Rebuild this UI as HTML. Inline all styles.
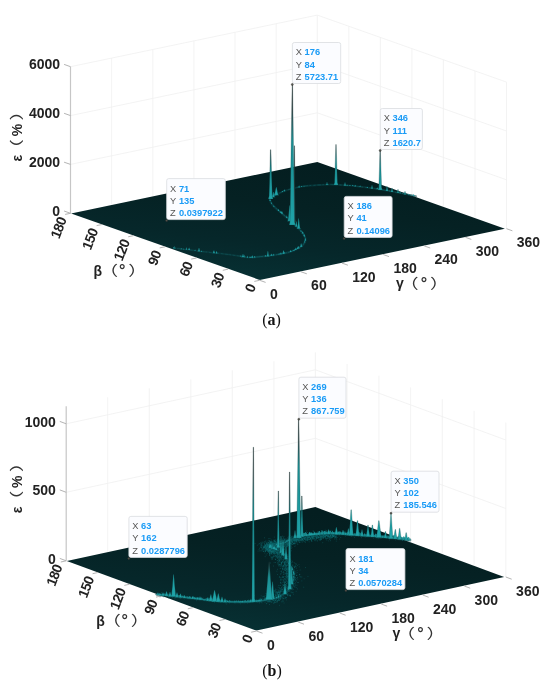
<!DOCTYPE html>
<html lang="en"><head><meta charset="utf-8"><title>Figure</title><style>
html,body{margin:0;padding:0;background:#fff}svg{display:block}
text{font-family:"Liberation Sans","Noto Sans CJK SC",sans-serif}
.t{font-size:14px;font-weight:bold;fill:#222}
.e{text-anchor:end}
.r{letter-spacing:-.7px}
.p{font-family:"Noto Sans CJK SC","Liberation Sans",sans-serif;font-size:14px;font-weight:400;fill:#333}
.d{font-size:16px;font-weight:bold;fill:#333}
.g{stroke:#f0f0f0;stroke-width:.8;fill:none}
.ax{stroke:#c6c6c6;stroke-width:1.2}
.tk{stroke:#b4b4b4;stroke-width:1}
.pk{fill:#1fa3a8;stroke:#0b3436;stroke-width:.25;stroke-linejoin:round}
.pg{fill:url(#pg)}.pg2{fill:url(#pg2)}.pd{fill:#2b3b3d}
.tb{fill:#fbfcff;stroke:#d9dce0;stroke-width:.8}
.k{font-size:9.3px;fill:#555}
.v{font-weight:bold;fill:#1a9bf6}
.mk{fill:#5a5a50;stroke:#333;stroke-width:.5}
.cap{font-family:"Liberation Serif","DejaVu Serif",serif;font-size:16px;text-anchor:middle;fill:#111}
.cb{font-weight:bold}
</style></head><body>
<svg width="550" height="684" viewBox="0 0 550 684">
<defs>
<linearGradient id="pg" x1="0" y1="0" x2="0" y2="1"><stop offset="0" stop-color="#222"/><stop offset="0.18" stop-color="#3a4a4c"/><stop offset="0.4" stop-color="#1b8d92"/><stop offset="1" stop-color="#1fa3a8"/></linearGradient>
<linearGradient id="pg2" x1="0" y1="0" x2="0" y2="1"><stop offset="0" stop-color="#2a3a3c"/><stop offset="0.4" stop-color="#1b8d92"/><stop offset="1" stop-color="#1fa3a8"/></linearGradient>
</defs>
<rect width="550" height="684" fill="#fff"/>
<g id="plot-a">
<line class="g" x1="111.6" y1="204.7" x2="111.6" y2="58.1"/>
<line class="g" x1="152.8" y1="196.1" x2="152.8" y2="49.5"/>
<line class="g" x1="193.9" y1="187.5" x2="193.9" y2="40.9"/>
<line class="g" x1="235" y1="178.9" x2="235" y2="32.3"/>
<line class="g" x1="276.2" y1="170.3" x2="276.2" y2="23.7"/>
<line class="g" x1="317.3" y1="161.7" x2="317.3" y2="15.1"/>
<line class="g" x1="506.5" y1="228.7" x2="506.5" y2="82.1"/>
<line class="g" x1="475" y1="217.5" x2="475" y2="70.9"/>
<line class="g" x1="443.4" y1="206.4" x2="443.4" y2="59.8"/>
<line class="g" x1="411.9" y1="195.2" x2="411.9" y2="48.6"/>
<line class="g" x1="380.4" y1="184" x2="380.4" y2="37.4"/>
<line class="g" x1="348.8" y1="172.9" x2="348.8" y2="26.3"/>
<polyline class="g" points="70.5,164.4 317.3,112.8 506.5,179.8"/>
<polyline class="g" points="70.5,115.6 317.3,64 506.5,131"/>
<polyline class="g" points="70.5,66.7 317.3,15.1 506.5,82.1"/>
<line class="ax" x1="70.5" y1="213.3" x2="70.5" y2="66.7"/>
<linearGradient id="fla" gradientUnits="userSpaceOnUse" x1="259.7" y1="280.3" x2="274.1" y2="161.7"><stop offset="0" stop-color="#073033"/><stop offset="0.3" stop-color="#06272a"/><stop offset="0.65" stop-color="#052123"/><stop offset="1" stop-color="#041e20"/></linearGradient>
<polygon points="71.1,213.4 259.7,279.9 504.9,228.7 317.3,162" fill="url(#fla)"/>
<line class="tk" x1="259.7" y1="280.3" x2="265.6" y2="282.4"/>
<line class="tk" x1="300.8" y1="271.7" x2="306.8" y2="273.8"/>
<line class="tk" x1="342" y1="263.1" x2="347.9" y2="265.2"/>
<line class="tk" x1="383.1" y1="254.5" x2="389" y2="256.6"/>
<line class="tk" x1="424.2" y1="245.9" x2="430.2" y2="248"/>
<line class="tk" x1="465.4" y1="237.3" x2="471.3" y2="239.4"/>
<line class="tk" x1="506.5" y1="228.7" x2="512.4" y2="230.8"/>
<line class="tk" x1="259.7" y1="280.3" x2="254.3" y2="281.4"/>
<line class="tk" x1="228.2" y1="269.1" x2="222.8" y2="270.3"/>
<line class="tk" x1="196.6" y1="258" x2="191.2" y2="259.1"/>
<line class="tk" x1="165.1" y1="246.8" x2="159.7" y2="247.9"/>
<line class="tk" x1="133.6" y1="235.6" x2="128.2" y2="236.8"/>
<line class="tk" x1="102" y1="224.5" x2="96.6" y2="225.6"/>
<line class="tk" x1="70.5" y1="213.3" x2="65.1" y2="214.4"/>
<line class="tk" x1="70.5" y1="213.3" x2="64.1" y2="211"/>
<line class="tk" x1="70.5" y1="164.4" x2="64.1" y2="162.2"/>
<line class="tk" x1="70.5" y1="115.6" x2="64.1" y2="113.3"/>
<line class="tk" x1="70.5" y1="66.7" x2="64.1" y2="64.4"/>
<text class="t" x="270" y="298.8">0</text>
<text class="t" x="311.1" y="290.2">60</text>
<text class="t" x="352.3" y="281.6">120</text>
<text class="t" x="393.4" y="273">180</text>
<text class="t" x="434.5" y="264.4">240</text>
<text class="t" x="475.7" y="255.8">300</text>
<text class="t" x="516.8" y="247.2">360</text>
<text class="t e r" x="251.5" y="284.9" transform="rotate(-69 251.5 284.9)" dy="4.9">0</text>
<text class="t e r" x="220" y="273.7" transform="rotate(-69 220 273.7)" dy="4.9">30</text>
<text class="t e r" x="188.4" y="262.6" transform="rotate(-69 188.4 262.6)" dy="4.9">60</text>
<text class="t e r" x="156.9" y="251.4" transform="rotate(-69 156.9 251.4)" dy="4.9">90</text>
<text class="t e r" x="125.4" y="240.2" transform="rotate(-69 125.4 240.2)" dy="4.9">120</text>
<text class="t e r" x="93.8" y="229.1" transform="rotate(-69 93.8 229.1)" dy="4.9">150</text>
<text class="t e r" x="62.3" y="217.9" transform="rotate(-69 62.3 217.9)" dy="4.9">180</text>
<text class="t e" x="60.1" y="216">0</text>
<text class="t e" x="60.1" y="167.1">2000</text>
<text class="t e" x="60.1" y="118.3">4000</text>
<text class="t e" x="60.1" y="69.4">6000</text>
</g>
<polyline points="173.5,248 174.8,248.2 176.7,248.4 178.8,248.6 181.2,248.9 183.8,249.2 186.4,249.5 189.1,249.8 192,250.2 195.1,250.6 198.3,251 201.4,251.4 204.5,251.8 207.5,252.1 210.6,252.5 213.6,252.8 216.6,253.1 219.7,253.4 222.7,253.8 225.8,254.2 229.1,254.6 232.4,255.1 235.5,255.5 238.4,255.9 240.9,256.3 243,256.6 244.7,256.9 246.1,257.2 247.4,257.4 248.7,257.5 250,257.6 251.3,257.6 252.5,257.5" fill="none" stroke="#0a3f43" stroke-width="2.0" stroke-linejoin="round" stroke-linecap="round" opacity="0.5"/>
<polyline points="173.5,248 174.8,248.2 176.7,248.4 178.8,248.6 181.2,248.9 183.8,249.2 186.4,249.5 189.1,249.8 192,250.2 195.1,250.6 198.3,251 201.4,251.4 204.5,251.8 207.5,252.1 210.6,252.5 213.6,252.8 216.6,253.1 219.7,253.4 222.7,253.8 225.8,254.2 229.1,254.6 232.4,255.1 235.5,255.5 238.4,255.9 240.9,256.3 243,256.6 244.7,256.9 246.1,257.2 247.4,257.4 248.7,257.5 250,257.6 251.3,257.6 252.5,257.5" fill="none" stroke="#115e63" stroke-width="0.8" stroke-linejoin="round" stroke-linecap="round" opacity="0.6" stroke-dasharray="2 2 3 1.5 1 2.5"/>
<path d="M172.8 248.3L173.5 247L174.2 248.3ZM174.3 248.5L174.8 245.8L175.4 248.5ZM180.5 249.2L181.2 248.1L182 249.2ZM183 249.5L183.8 248.4L184.6 249.5ZM185.8 249.8L186.4 247.1L187 249.8ZM188.1 250.1L189.1 247.4L190.1 250.1ZM194.6 250.9L195.1 249.6L195.6 250.9ZM200.6 251.7L201.4 250.4L202.2 251.7ZM212.8 253.1L213.6 250.4L214.4 253.1ZM215.8 253.4L216.6 250.7L217.5 253.4ZM240 256.6L240.9 255.3L241.8 256.6ZM244 257.2L244.7 254.5L245.3 257.2ZM246.8 257.7L247.4 255.6L248.1 257.7ZM249.4 257.9L250 255.8L250.6 257.9ZM250.6 257.9L251.3 255.8L252 257.9Z" fill="#1fa3a8" opacity="0.9"/>
<polyline points="252.5,257.5 253.6,257.4 254.7,257.2 255.9,257.1 257.3,256.9 258.8,256.8 260.4,256.6 262.1,256.5 263.9,256.3 265.7,256.1 267.5,255.9 269.4,255.7 271.3,255.4 273.3,255.2 275.3,254.9 277.2,254.6 279.1,254.3 280.9,254 282.7,253.6 284.5,253.3 286.2,252.9 287.8,252.5 289.3,252.1 290.7,251.7 292,251.2 293.2,250.7 294.3,250.3 295.4,249.7 296.5,249.2 297.6,248.6 298.7,248.1 299.7,247.5 300.7,246.9 301.6,246.2 302.4,245.5 303.1,244.7 303.7,243.9 304.3,243 304.7,242.2 305.1,241.3 305.3,240.5 305.4,239.7 305.4,239 305.3,238.3 305.1,237.5 304.8,236.8 304.5,236.1 304.1,235.4 303.7,234.6 303.2,233.8 302.7,233.1 302.1,232.4 301.6,231.7 301,231.1 300.5,230.5 299.9,229.9 299.3,229.3 298.7,228.7 298,228.1 297.3,227.4 296.6,226.7 295.9,226 295.2,225.2 294.4,224.5 293.6,223.7 292.7,222.9 291.8,222.1 290.8,221.2 289.8,220.3 288.8,219.5 287.8,218.6 286.8,217.7 285.8,216.9 284.9,216 283.9,215.1 282.9,214.3 282,213.5 281.1,212.7 280.2,212 279.4,211.3 278.5,210.6 277.7,209.9 276.9,209.2 276.1,208.5 275.3,207.7 274.5,207 273.8,206.2 273.1,205.5 272.5,204.8 272,204.1 271.6,203.5 271.2,202.9 270.9,202.3 270.6,201.8 270.4,201.2 270.2,200.7 270,200.1 269.9,199.6 269.9,199.2 269.9,198.7 270,198.3 270.2,197.9 270.6,197.6 271,197.2 271.5,196.9 272,196.6 272.5,196.3 273,196 273.4,195.8 273.9,195.6 274.4,195.3 275.2,195 276.2,194.6" fill="none" stroke="#0b464a" stroke-width="2.4" stroke-linejoin="round" stroke-linecap="round" opacity="0.55"/>
<polyline points="252.5,257.5 253.6,257.4 254.7,257.2 255.9,257.1 257.3,256.9 258.8,256.8 260.4,256.6 262.1,256.5 263.9,256.3 265.7,256.1 267.5,255.9 269.4,255.7 271.3,255.4 273.3,255.2 275.3,254.9 277.2,254.6 279.1,254.3 280.9,254 282.7,253.6 284.5,253.3 286.2,252.9 287.8,252.5 289.3,252.1 290.7,251.7 292,251.2 293.2,250.7 294.3,250.3 295.4,249.7 296.5,249.2 297.6,248.6 298.7,248.1 299.7,247.5 300.7,246.9 301.6,246.2 302.4,245.5 303.1,244.7 303.7,243.9 304.3,243 304.7,242.2 305.1,241.3 305.3,240.5 305.4,239.7 305.4,239 305.3,238.3 305.1,237.5 304.8,236.8 304.5,236.1 304.1,235.4 303.7,234.6 303.2,233.8 302.7,233.1 302.1,232.4 301.6,231.7 301,231.1 300.5,230.5 299.9,229.9 299.3,229.3 298.7,228.7 298,228.1 297.3,227.4 296.6,226.7 295.9,226 295.2,225.2 294.4,224.5 293.6,223.7 292.7,222.9 291.8,222.1 290.8,221.2 289.8,220.3 288.8,219.5 287.8,218.6 286.8,217.7 285.8,216.9 284.9,216 283.9,215.1 282.9,214.3 282,213.5 281.1,212.7 280.2,212 279.4,211.3 278.5,210.6 277.7,209.9 276.9,209.2 276.1,208.5 275.3,207.7 274.5,207 273.8,206.2 273.1,205.5 272.5,204.8 272,204.1 271.6,203.5 271.2,202.9 270.9,202.3 270.6,201.8 270.4,201.2 270.2,200.7 270,200.1 269.9,199.6 269.9,199.2 269.9,198.7 270,198.3 270.2,197.9 270.6,197.6 271,197.2 271.5,196.9 272,196.6 272.5,196.3 273,196 273.4,195.8 273.9,195.6 274.4,195.3 275.2,195 276.2,194.6" fill="none" stroke="#13686d" stroke-width="0.9" stroke-linejoin="round" stroke-linecap="round" opacity="0.65" stroke-dasharray="3 1.2 1.5 0.8 4 1.5"/>
<polyline points="276.2,194.6 277.5,194 278.9,193.3 280.6,192.6 282.4,191.8 284.3,191 286.4,190.3 288.7,189.6 291.1,188.9 293.8,188.3 296.4,187.6 299.1,187.1 301.6,186.6 304,186.2 306.2,185.9 308.5,185.7 310.7,185.5 313.1,185.4 315.5,185.2 318.1,185 320.7,184.9 323.4,184.7 326.1,184.7 328.9,184.6 331.8,184.6 334.8,184.7 337.8,184.8 341,185 344.1,185.2 347.1,185.4 350,185.6 352.7,185.8 355.2,186.1 357.7,186.4 360.1,186.7 362.5,187 365,187.3 367.4,187.6 369.8,187.9 372.2,188.2 374.6,188.6 377.2,189 380,189.4 383.1,189.9 386.4,190.5 389.9,191.1 393.4,191.8 396.8,192.4 400,193 402.9,193.6 405.8,194.1 408.5,194.7 411.1,195.2 413.6,195.7 416,196.2" fill="none" stroke="#0a3f43" stroke-width="2.0" stroke-linejoin="round" stroke-linecap="round" opacity="0.55"/>
<polyline points="276.2,194.6 277.5,194 278.9,193.3 280.6,192.6 282.4,191.8 284.3,191 286.4,190.3 288.7,189.6 291.1,188.9 293.8,188.3 296.4,187.6 299.1,187.1 301.6,186.6 304,186.2 306.2,185.9 308.5,185.7 310.7,185.5 313.1,185.4 315.5,185.2 318.1,185 320.7,184.9 323.4,184.7 326.1,184.7 328.9,184.6 331.8,184.6 334.8,184.7 337.8,184.8 341,185 344.1,185.2 347.1,185.4 350,185.6 352.7,185.8 355.2,186.1 357.7,186.4 360.1,186.7 362.5,187 365,187.3 367.4,187.6 369.8,187.9 372.2,188.2 374.6,188.6 377.2,189 380,189.4 383.1,189.9 386.4,190.5 389.9,191.1 393.4,191.8 396.8,192.4 400,193 402.9,193.6 405.8,194.1 408.5,194.7 411.1,195.2 413.6,195.7 416,196.2" fill="none" stroke="#115e63" stroke-width="0.8" stroke-linejoin="round" stroke-linecap="round" opacity="0.7" stroke-dasharray="1.5 2.5 3 2 1 3"/>
<path d="M251.7 257.8L252.5 255.1L253.2 257.8ZM253.9 257.5L254.7 255.8L255.5 257.5ZM264.9 256.4L265.7 254.7L266.5 256.4ZM270.4 255.7L271.3 253.6L272.3 255.7ZM272.6 255.5L273.3 253.4L274 255.5ZM278.5 254.6L279.1 252.9L279.7 254.6ZM280 254.3L280.9 252.2L281.9 254.3ZM283.7 253.6L284.5 251.5L285.2 253.6ZM289.7 252L290.7 249.9L291.7 252ZM292.6 251L293.2 249.7L293.7 251ZM293.5 250.6L294.3 249.3L295.1 250.6ZM294.8 250L295.4 247.3L296 250ZM295.8 249.5L296.5 248.2L297.2 249.5ZM296.9 248.9L297.6 246.2L298.3 248.9ZM297.7 248.4L298.7 245.7L299.6 248.4ZM304.2 242.5L304.7 240.4L305.3 242.5ZM304.3 240.8L305.3 239.7L306.3 240.8ZM304.7 240L305.4 238.9L306.1 240ZM304.6 239.3L305.4 238.2L306.2 239.3ZM303.7 236.4L304.5 235.1L305.3 236.4ZM303.2 235.7L304.1 234L305.1 235.7ZM301.7 233.4L302.7 231.3L303.7 233.4ZM300.2 231.4L301 230.3L301.9 231.4ZM297.3 228.4L298 225.7L298.7 228.4ZM294.4 225.5L295.2 224.4L296 225.5ZM293.5 224.8L294.4 223.1L295.4 224.8ZM292.8 224L293.6 222.7L294.4 224ZM291 222.4L291.8 221.1L292.6 222.4ZM287.9 219.8L288.8 218.5L289.7 219.8ZM286.1 218L286.8 215.3L287.6 218ZM281 213.8L282 211.1L283 213.8ZM280.1 213L281.1 211.3L282.1 213ZM279.7 212.3L280.2 211L280.8 212.3ZM277.7 210.9L278.5 208.8L279.3 210.9ZM272.8 206.5L273.8 205.4L274.7 206.5ZM271 203.8L271.6 202.1L272.1 203.8ZM269.6 201L270.2 199.7L270.8 201ZM269.2 200.4L270 199.1L270.8 200.4ZM270.4 197.5L271 194.8L271.6 197.5ZM270.7 197.2L271.5 196.1L272.2 197.2ZM271.6 196.6L272.5 195.3L273.4 196.6ZM272.4 196.3L273 194.6L273.6 196.3ZM273.7 195.6L274.4 192.9L275.2 195.6ZM274.2 195.3L275.2 193.6L276.1 195.3Z" fill="#1fa3a8" opacity="0.9"/>
<path d="M281.6 192.1L282.4 190.8L283.2 192.1ZM283.4 191.3L284.3 189.2L285.2 191.3ZM290.4 189.2L291.1 187.9L291.9 189.2ZM298.2 187.4L299.1 185.3L300 187.4ZM301 186.9L301.6 185.8L302.2 186.9ZM303.2 186.5L304 185.4L304.7 186.5ZM346.2 185.7L347.1 184.4L348 185.7ZM349.3 185.9L350 184.8L350.7 185.9ZM352 186.1L352.7 184.8L353.4 186.1ZM354.3 186.4L355.2 184.7L356.1 186.4ZM359.5 187L360.1 185.3L360.7 187ZM366.7 187.9L367.4 186.8L368.1 187.9ZM376.2 189.3L377.2 187.2L378.2 189.3ZM389.4 191.4L389.9 189.7L390.4 191.4ZM399.2 193.3L400 191.6L400.8 193.3ZM402.4 193.9L402.9 192.8L403.5 193.9ZM408 195L408.5 193.9L409 195ZM410.5 195.5L411.1 194.2L411.7 195.5ZM412.7 196L413.6 193.9L414.5 196Z" fill="#1fa3a8" opacity="0.9"/>
<polygon class="pk pg2" points="333.8,185.1 334.6,182.4 335.2,164.7 335.8,144.5 336.2,144.5 336.8,164.7 337.4,182.4 338.2,185.1"/>
<polygon class="pk" points="325.4,185.1 326.2,184.6 326.6,183.5 326.8,182.2 327.2,182.2 327.4,183.5 327.8,184.6 328.6,185.1"/>
<polygon class="pk" points="343.3,185.7 344.1,185.2 344.5,183.9 344.8,182.4 345.2,182.4 345.5,183.9 345.9,185.2 346.7,185.7"/>
<polygon class="pk" points="370.3,188.7 371.1,188.2 371.5,186.8 371.8,185.2 372.2,185.2 372.5,186.8 372.9,188.2 373.7,188.7"/>
<polygon class="pk pg2" points="378,190.1 378.8,187.4 379.4,170.2 379.9,150.6 380.4,150.6 381,170.2 381.6,187.4 382.4,190.1"/>
<polygon class="pk" points="385.2,191.1 386,190.5 386.4,188.7 386.8,186.5 387.2,186.5 387.6,188.7 388,190.5 388.8,191.1"/>
<polygon class="pk" points="390.2,192.1 391,191.6 391.4,190.1 391.8,188.3 392.2,188.3 392.6,190.1 393,191.6 393.8,192.1"/>
<polygon class="pk" points="396.3,193.1 397.1,192.6 397.5,191.2 397.8,189.5 398.2,189.5 398.5,191.2 398.9,192.6 399.7,193.1"/>
<polygon class="pk" points="403.3,194.5 404.1,194 404.5,192.8 404.8,191.5 405.2,191.5 405.5,192.8 405.9,194 406.7,194.5"/>
<polygon class="pk" points="273.7,195.3 274.5,194.5 275.3,191.1 276.1,187.2 276.6,187.2 277.3,191.1 278.1,194.5 278.9,195.3"/>
<polygon class="pk" points="271.2,197.3 272,196.7 272.6,194.5 273.1,192 273.6,192 274,194.5 274.6,196.7 275.4,197.3"/>
<polygon class="pk pg2" points="268.3,199.1 269.1,195.9 269.8,174.2 270.4,149.7 270.9,149.7 271.6,174.2 272.3,195.9 273.1,199.1"/>
<polygon class="pk" points="287.3,221.3 288.1,220.1 288.8,213.2 289.4,205.5 289.9,205.5 290.4,213.2 291.1,220.1 291.9,221.3"/>
<polygon class="pk pd" points="292.5,222.3 293.3,219 293.7,183.9 294.1,145.8 294.6,145.8 294.9,183.9 295.3,219 296.1,222.3"/>
<polygon class="pk pg" points="289.2,225.1 290,221.8 291,154.9 292.1,84.9 292.6,84.9 293.6,154.9 294.6,221.8 295.4,225.1"/>
<polygon class="pk" points="294.5,226.8 295.3,226.2 295.7,224 296.1,221.5 296.6,221.5 296.9,224 297.3,226.2 298.1,226.8"/>
<polygon class="pk" points="296.6,228.7 297.4,227.8 298,223.5 298.4,218.6 298.9,218.6 299.4,223.5 300,227.8 300.8,228.7"/>
<polygon class="pk" points="299.4,246.9 300.2,246.4 300.6,245 300.9,243.4 301.4,243.4 301.8,245 302.2,246.4 303,246.9"/>
<polygon class="pk" points="197.2,251.5 198,251 198.4,249.6 198.8,248 199.2,248 199.6,249.6 200,251 200.8,251.5"/>
<polygon class="pk" points="212.2,253.3 213,252.9 213.4,251.8 213.8,250.6 214.2,250.6 214.6,251.8 215,252.9 215.8,253.3"/>
<polygon class="pk" points="281.7,253.9 282.5,253.4 282.9,252 283.2,250.4 283.8,250.4 284.1,252 284.5,253.4 285.3,253.9"/>
<polygon class="pk" points="266.1,256.5 266.9,255.9 267.3,253.7 267.6,251.2 268.1,251.2 268.5,253.7 268.9,255.9 269.7,256.5"/>
<polygon class="pk" points="241,257.3 241.8,256.8 242.4,255.5 242.8,254 243.2,254 243.6,255.5 244.2,256.8 245,257.3"/>
<g transform="translate(21.8 161.6) rotate(-90)">
<text class="t" x="0" y="0">ε</text>
<text class="p" transform="translate(3.7 -0.6) scale(1.35 1)">（</text>
<text class="t" x="25.3" y="0">%</text>
<text class="p" transform="translate(41.2 -0.6) scale(1.35 1)">）</text>
</g>
<text class="t" x="93.6" y="276">β</text>
<text class="p" transform="translate(99.3 275.1) scale(1.35 1)">（</text>
<text class="d" x="119" y="276.2">°</text>
<text class="p" transform="translate(128.2 275.1) scale(1.35 1)">）</text>
<text class="t" x="396" y="287.9">γ</text>
<text class="p" transform="translate(399.8 288.3) scale(1.35 1)">（</text>
<text class="d" x="420.8" y="289.2">°</text>
<text class="p" transform="translate(429.9 288.3) scale(1.35 1)">）</text>
<rect class="tb" x="292.4" y="42.5" width="48.3" height="41" rx="2"/>
<text class="k" x="295.8" y="55.4">X<tspan class="v" x="304.6">176</tspan></text>
<text class="k" x="295.8" y="67.5">Y<tspan class="v" x="304.6">84</tspan></text>
<text class="k" x="295.8" y="79.6">Z<tspan class="v" x="304.6">5723.71</tspan></text>
<circle class="mk" cx="292.3" cy="84.5" r="1"/>
<rect class="tb" x="380.3" y="108.5" width="42.1" height="41" rx="2"/>
<text class="k" x="383.7" y="121.4">X<tspan class="v" x="392.5">346</tspan></text>
<text class="k" x="383.7" y="133.5">Y<tspan class="v" x="392.5">111</tspan></text>
<text class="k" x="383.7" y="145.6">Z<tspan class="v" x="392.5">1620.7</tspan></text>
<circle class="mk" cx="380.2" cy="150.5" r="1"/>
<rect class="tb" x="344.2" y="196.4" width="47.9" height="41" rx="2"/>
<text class="k" x="347.6" y="209.3">X<tspan class="v" x="356.4">186</tspan></text>
<text class="k" x="347.6" y="221.4">Y<tspan class="v" x="356.4">41</tspan></text>
<text class="k" x="347.6" y="233.5">Z<tspan class="v" x="356.4">0.14096</tspan></text>
<circle class="mk" cx="344.1" cy="238.4" r="1"/>
<rect class="tb" x="166.7" y="178.6" width="58.6" height="41" rx="2"/>
<text class="k" x="170.1" y="191.5">X<tspan class="v" x="178.9">71</tspan></text>
<text class="k" x="170.1" y="203.6">Y<tspan class="v" x="178.9">135</tspan></text>
<text class="k" x="170.1" y="215.7">Z<tspan class="v" x="178.9">0.0397922</tspan></text>
<circle class="mk" cx="166.6" cy="220.6" r="1"/>
<text class="cap" x="271.6" y="324.6">(<tspan class="cb">a</tspan>)</text>
<g id="plot-b">
<line class="g" x1="107.7" y1="551.8" x2="107.7" y2="397.3"/>
<line class="g" x1="149.3" y1="542.8" x2="149.3" y2="388.3"/>
<line class="g" x1="190.8" y1="533.8" x2="190.8" y2="379.3"/>
<line class="g" x1="232.3" y1="524.8" x2="232.3" y2="370.3"/>
<line class="g" x1="273.9" y1="515.8" x2="273.9" y2="361.3"/>
<line class="g" x1="315.4" y1="506.8" x2="315.4" y2="352.3"/>
<line class="g" x1="505.8" y1="577" x2="505.8" y2="422.5"/>
<line class="g" x1="474.1" y1="565.3" x2="474.1" y2="410.8"/>
<line class="g" x1="442.3" y1="553.6" x2="442.3" y2="399.1"/>
<line class="g" x1="410.6" y1="541.9" x2="410.6" y2="387.4"/>
<line class="g" x1="378.9" y1="530.2" x2="378.9" y2="375.7"/>
<line class="g" x1="347.1" y1="518.5" x2="347.1" y2="364"/>
<polyline class="g" points="66.2,492.3 315.4,438.3 505.8,508.5"/>
<polyline class="g" points="66.2,423.8 315.4,369.8 505.8,440"/>
<line class="ax" x1="66.2" y1="560.8" x2="66.2" y2="406.3"/>
<linearGradient id="flb" gradientUnits="userSpaceOnUse" x1="256.6" y1="631" x2="271.3" y2="506.8"><stop offset="0" stop-color="#073033"/><stop offset="0.3" stop-color="#06272a"/><stop offset="0.65" stop-color="#052123"/><stop offset="1" stop-color="#041e20"/></linearGradient>
<polygon points="66.8,560.9 256.6,630.6 504.2,577 315.4,507.1" fill="url(#flb)"/>
<line class="tk" x1="256.6" y1="631" x2="262.5" y2="633.2"/>
<line class="tk" x1="298.1" y1="622" x2="304" y2="624.2"/>
<line class="tk" x1="339.7" y1="613" x2="345.6" y2="615.2"/>
<line class="tk" x1="381.2" y1="604" x2="387.1" y2="606.2"/>
<line class="tk" x1="422.7" y1="595" x2="428.6" y2="597.2"/>
<line class="tk" x1="464.3" y1="586" x2="470.2" y2="588.2"/>
<line class="tk" x1="505.8" y1="577" x2="511.7" y2="579.2"/>
<line class="tk" x1="256.6" y1="631" x2="251.2" y2="632.2"/>
<line class="tk" x1="224.9" y1="619.3" x2="219.5" y2="620.5"/>
<line class="tk" x1="193.1" y1="607.6" x2="187.8" y2="608.8"/>
<line class="tk" x1="161.4" y1="595.9" x2="156" y2="597.1"/>
<line class="tk" x1="129.7" y1="584.2" x2="124.3" y2="585.4"/>
<line class="tk" x1="97.9" y1="572.5" x2="92.6" y2="573.7"/>
<line class="tk" x1="66.2" y1="560.8" x2="60.8" y2="562"/>
<line class="tk" x1="66.2" y1="560.8" x2="59.8" y2="558.4"/>
<line class="tk" x1="66.2" y1="492.3" x2="59.8" y2="489.9"/>
<line class="tk" x1="66.2" y1="423.8" x2="59.8" y2="421.4"/>
<text class="t" x="266.9" y="649.5">0</text>
<text class="t" x="308.4" y="640.5">60</text>
<text class="t" x="350" y="631.5">120</text>
<text class="t" x="391.5" y="622.5">180</text>
<text class="t" x="433" y="613.5">240</text>
<text class="t" x="474.6" y="604.5">300</text>
<text class="t" x="516.1" y="595.5">360</text>
<text class="t e r" x="248.4" y="635.6" transform="rotate(-69 248.4 635.6)" dy="4.9">0</text>
<text class="t e r" x="216.7" y="623.9" transform="rotate(-69 216.7 623.9)" dy="4.9">30</text>
<text class="t e r" x="184.9" y="612.2" transform="rotate(-69 184.9 612.2)" dy="4.9">60</text>
<text class="t e r" x="153.2" y="600.5" transform="rotate(-69 153.2 600.5)" dy="4.9">90</text>
<text class="t e r" x="121.5" y="588.8" transform="rotate(-69 121.5 588.8)" dy="4.9">120</text>
<text class="t e r" x="89.7" y="577.1" transform="rotate(-69 89.7 577.1)" dy="4.9">150</text>
<text class="t e r" x="58" y="565.4" transform="rotate(-69 58 565.4)" dy="4.9">180</text>
<text class="t e" x="55.8" y="563.5">0</text>
<text class="t e" x="55.8" y="495">500</text>
<text class="t e" x="55.8" y="426.5">1000</text>
</g>
<path d="M160.1 594h.1M157.1 594.9h.1M155.6 594.5h.1M157.9 592.8h.1M159.8 595.2h.1M156.8 594.4h.1M160.1 594.5h.1M158.7 593.2h.1M160.2 594.9h.1M161.1 593.3h.1M163.6 595.1h.1M159.9 597h.1M162.2 593.6h.1M161.6 592.7h.1M164.2 594.7h.1M162.8 596.4h.1M161.1 595.9h.1M160.3 594.6h.1M163.8 597h.1M169.2 595.2h.1M167.5 595.3h.1M169.1 594.9h.1M164.9 593.8h.1M168.7 598.1h.1M170.7 595.4h.1M173.7 596.2h.1M170.4 596.2h.1M172.4 595.9h.1M170 596.7h.1M172.5 597.5h.1M174.4 594.5h.1M174.9 598.3h.1M174.4 595.5h.1M175.4 595.6h.1M177 595.5h.1M180.3 596.4h.1M180.2 598.5h.1M182.7 596.8h.1M180.6 597.8h.1M182.1 595.4h.1M183.6 598.2h.1M183.2 596.3h.1M184.6 596.9h.1M184.4 598.9h.1M187.7 598.2h.1M188.4 598.5h.1M187.4 597.7h.1M186.2 597.7h.1M194.1 599h.1M189.3 597.6h.1M188.4 598.4h.1M193.2 596.8h.1M193.4 597.7h.1M195.1 598.5h.1M198.1 598.1h.1M194.5 598.9h.1M196.9 599.2h.1M195.3 599.1h.1M197.5 598.4h.1M196.3 600.7h.1M199.3 598.3h.1M201.2 599.3h.1M199.9 600h.1M203.4 599.9h.1M204.3 599.8h.1M201.4 599.1h.1M204.1 600.1h.1M203 597.9h.1M205.2 598.4h.1M203.9 600.5h.1M206.2 600.7h.1M206.5 599h.1M207.7 599.9h.1M209.5 599.5h.1M209.5 598.8h.1M212.5 598.8h.1M212.1 601.4h.1M214.5 602.4h.1M212.2 601.7h.1M217.2 601.9h.1M213.3 601.3h.1M220.9 599.5h.1M218.4 602.3h.1M216.2 601.7h.1M218.1 600.4h.1M218.5 601.5h.1M219.8 602.3h.1M220.8 601.3h.1M224.2 602h.1M220.1 602.2h.1M224.1 602h.1M225.5 602.9h.1M225.2 599.7h.1M225 602.5h.1M227.1 602.9h.1M228 600.9h.1M232 601h.1M226.3 604h.1M226.6 602.5h.1M234.3 602.1h.1M229.6 603h.1M230 600.5h.1M234.5 602.8h.1M235.7 602.8h.1M234.3 601.8h.1M235.5 601.7h.1M238.7 601.7h.1M238.5 601.4h.1M238.9 602h.1M239.6 602.6h.1M240.3 603.8h.1M241.9 601.8h.1M240.4 602h.1M243.5 601.2h.1M244.4 602.7h.1M244.3 601.4h.1M246.3 602.1h.1M247.4 603.1h.1M248.8 601.5h.1M245.7 602.2h.1M248.6 599.8h.1M251.1 601.9h.1M250.2 600.6h.1M253.3 601.1h.1M250.7 600.3h.1M250.6 601.5h.1M252.7 602.1h.1M253.1 602.6h.1M252.1 600.6h.1M255 602.1h.1M257.3 602.3h.1M251.9 601.8h.1M259.8 601.3h.1M256.2 601.6h.1M256.2 601.9h.1M259.1 602.5h.1M260 600.3h.1M260.2 602h.1M260 600.3h.1M256.9 601.7h.1M260 598.5h.1M259.8 600.3h.1M264.4 600.4h.1M263.9 599.3h.1M262.6 601.1h.1M265.9 600.2h.1M267.3 599.2h.1M265 602.7h.1M275.5 600h.1M274.8 598.3h.1M268.5 599.5h.1M259.5 600.6h.1M271.3 599.5h.1M266.6 603.7h.1M261.1 595.9h.1M263.9 596.7h.1M273.2 600.8h.1M262.9 598.3h.1M280.3 598.3h.1M263.4 600.8h.1M269.9 600.5h.1M262.7 596.8h.1M269.7 599.8h.1M259.3 603.1h.1M270.6 599.3h.1M265.7 600.6h.1M263.7 596.3h.1M268.4 596h.1M268.8 596h.1M266.5 599.6h.1M275.3 597.1h.1M260.3 598.2h.1M261.7 598.3h.1M268.9 602h.1M274.7 597.9h.1M279.3 605.3h.1M266 593.7h.1M268.5 599.9h.1M258.1 599.9h.1M267.9 597.6h.1M271.8 602.4h.1M266.6 600.3h.1M265.8 597.6h.1M269.2 601.1h.1M266.2 593.7h.1M271.6 595.4h.1M269.4 604.5h.1M268.8 596.5h.1M262 602.9h.1M268.8 601.2h.1M273.2 599.6h.1M267.4 597.1h.1M254.4 595.6h.1M268.5 599.2h.1M270.8 599.4h.1M269.6 601.8h.1M264.7 598.9h.1M261.3 602.3h.1M269 601h.1M276.1 602.6h.1M268.6 601.8h.1M262.2 600.9h.1M269.5 595.3h.1M275.1 597.8h.1M272.1 598.6h.1M273.5 603.2h.1M265 595.6h.1M270.2 601.7h.1M269 597.8h.1M273.1 592h.1M267.7 595.7h.1M272.1 597.5h.1M265.5 598.5h.1M263.9 599.4h.1M267.6 598.4h.1M267.4 601.9h.1M270.3 600.9h.1M273 597.3h.1M273.4 600.4h.1M272.2 598.4h.1M268.8 601.6h.1M281 597.2h.1M273.3 598.5h.1M274.4 600.6h.1M275.7 591.9h.1M268 596.8h.1M270.3 597.5h.1M267.8 601.3h.1M279.7 591.8h.1M269.3 600.3h.1M270.8 598.5h.1M264.4 596.9h.1M274.2 602.4h.1M271.2 597.2h.1M271.2 598.8h.1M273.3 599.8h.1M267.9 600h.1M267.1 601.3h.1M278.2 595.9h.1M274.6 596.4h.1M277.7 601.6h.1M271.6 601.8h.1M270.6 597.4h.1M270 598.7h.1M271.1 599.5h.1M269.8 601.2h.1M277.4 597.8h.1M266 601.1h.1M278 598.7h.1M266.6 599.8h.1M279.8 594.1h.1M274.9 598.3h.1M268.7 600.5h.1M266.6 599.9h.1M278.8 599.6h.1M268.6 594.3h.1M266.7 594.1h.1M280.1 598.4h.1M267.8 595.6h.1M267.7 598.2h.1M266.7 603.6h.1M269.2 597h.1M274.1 603h.1M278.9 597.8h.1M273.9 599.5h.1M275.1 599.8h.1M268.2 595.7h.1M275.4 595.5h.1M280.9 598.8h.1M269.7 597.8h.1M272.2 598.3h.1M279 594.8h.1M265.8 599.6h.1M273.7 599.1h.1M276.6 598.2h.1M278.3 596.2h.1M274.8 596.4h.1M269.2 600.3h.1M277.2 593.4h.1M269.3 599.4h.1M279.5 596.9h.1M273.7 594.8h.1M286.3 599.9h.1M278.7 600.4h.1M278.9 600.3h.1M273 600.7h.1M274.9 602.2h.1M271.1 597.2h.1M277.6 602.1h.1M275.2 596.7h.1M274 597.3h.1M283.4 601.1h.1M280.5 599.5h.1M271.9 601.8h.1M282.3 600.2h.1M274.4 601.6h.1M272.8 600.7h.1M273.1 595.4h.1M279.1 598.9h.1M285.3 597.2h.1M276.5 594.9h.1M267.7 593.2h.1M278.6 594.8h.1M281.7 601.8h.1M275.1 602.5h.1M277.5 601h.1M275.3 600.6h.1M272 599.7h.1M274.3 597.6h.1M279.4 598.5h.1M276.1 600h.1M280.2 594.3h.1M279 599.8h.1M272.9 599h.1M270.2 601.9h.1M275.3 597.8h.1M282 597.6h.1M279.2 595.2h.1M273.7 594.2h.1M275.4 600.8h.1M277.4 600.4h.1M271.6 595.6h.1M274.2 599.5h.1M278.1 598h.1M279.3 597.6h.1M276.3 601.5h.1M273.7 598.5h.1M285.9 597.4h.1M281.6 595.5h.1M287.5 591.1h.1M273 594.3h.1M285.9 598.1h.1M277.1 593.7h.1M280 597.4h.1M275.1 593.1h.1M273.1 597.7h.1M279.8 597.3h.1M277.6 592.4h.1M278.5 594.3h.1M278.5 598.4h.1M275.1 594.4h.1M283 598.1h.1M275.3 589h.1M278.1 598.8h.1M283.6 595.3h.1M275.3 595.9h.1M282.2 594h.1M277.8 594.6h.1M279.6 592.9h.1M280.1 595.8h.1M277.3 598.6h.1M283.7 592.6h.1M283 598.6h.1M276.9 600.9h.1M279.2 600.6h.1M275.5 594.8h.1M284 603h.1M283.2 598.5h.1M278.1 592.5h.1M279.2 600.2h.1M271.6 594.8h.1M271.3 596.4h.1M284.4 592.7h.1M278.4 599.7h.1M279.9 592.8h.1M274.1 590.7h.1M283.9 594.1h.1M285.2 598.4h.1M277.2 594.7h.1M283.9 596.5h.1M281.5 591.7h.1M284.5 593.7h.1M269.7 594.4h.1M282.2 601.8h.1M278.5 592.5h.1M290.2 596.5h.1M279.1 593.2h.1M275.6 600.1h.1M279 594.7h.1M277.9 600.3h.1M277.5 597.8h.1M281.5 596.7h.1M276.2 597.9h.1M287.8 596h.1M276 592.6h.1M281.2 595.4h.1M279.8 596.1h.1M271.8 597h.1M279.8 594.7h.1M279.8 597.4h.1M279 592.6h.1M284.2 593.8h.1M275.3 590.7h.1M278.8 592.1h.1M276.3 596.2h.1M278.9 597.7h.1M280.2 593.8h.1M277.2 593.6h.1M281.8 595h.1M276.8 597.2h.1M279.2 593.7h.1M271.6 596.1h.1M279.8 595.1h.1M276.7 592.7h.1M277.7 595.6h.1M278.1 594.5h.1M276.5 595.9h.1M279.8 592.9h.1M282.3 597.1h.1M282.5 594.6h.1M277.8 591.8h.1M282.3 589.2h.1M276.9 594h.1M282.7 594.9h.1M274.2 591.1h.1M275.3 595.2h.1M279 594.4h.1M277.4 593.1h.1M285.3 590.7h.1M280.8 598h.1M283.2 592.4h.1M283.7 591.6h.1M280.6 597.9h.1M289.5 589.1h.1M283.9 598.9h.1M278 594.4h.1M287.6 592.3h.1M282.7 593.5h.1M271.6 594.6h.1M279.7 596.2h.1M290.4 595.5h.1M278.9 594.9h.1M281.5 596.4h.1M273.9 590.5h.1M271 595.3h.1M280.5 591.9h.1M277.2 592.1h.1M276.3 592.8h.1M278.3 597.4h.1M282.1 591.5h.1M277.9 596.9h.1M282.7 594.5h.1M284 598h.1M274.9 591.7h.1M272.4 595h.1M278.8 591.9h.1M277 595.5h.1M281.6 590.9h.1M288.2 589.5h.1M276.4 599.4h.1M280.6 590.9h.1M278.9 592h.1M286 594.4h.1M284.9 591.6h.1M275.3 593.1h.1M289.4 595.2h.1M281.5 594.5h.1M280.5 592.2h.1M276.5 591.5h.1M283 591.9h.1M285.9 597.4h.1M288.5 591.5h.1M278.9 590.6h.1M277.7 592.4h.1M284.3 592.8h.1M283.2 592.8h.1M281.7 590.3h.1M290.4 595.2h.1M278.1 589.9h.1M279.6 592.4h.1M288.2 595.1h.1M287.3 595.3h.1M287.5 594.3h.1M284.4 592h.1M274.1 592h.1M290.7 590.9h.1M279.4 595.1h.1M284.2 589.7h.1M291.1 592.7h.1M287.3 589.5h.1M286.1 592h.1M287.4 594.1h.1M289.1 591.5h.1M287 587.9h.1M286.8 592.8h.1M282 588.9h.1M283.5 587.7h.1M285.4 591.8h.1M279.4 591.1h.1M288.8 593.9h.1M288.5 590.6h.1M282.2 589.9h.1M286.6 597.4h.1M290.4 595.3h.1M290.1 586.6h.1M282.9 589.8h.1M289.6 595.6h.1M280.7 591.1h.1M286.4 589.7h.1M280.9 589.2h.1M287.9 588.5h.1M289.1 591.2h.1M287.3 595.2h.1M280.7 588.8h.1M285.8 588.2h.1M280.4 590.7h.1M284.5 587.6h.1M283.3 591.2h.1M291.4 584.3h.1M291.2 592h.1M280 585.6h.1M287 588.5h.1M285.7 591.9h.1M283.3 590h.1M287.3 592h.1M293.3 594.2h.1M286.2 589h.1M296.1 591.3h.1M287.1 586.6h.1M288.7 587.5h.1M282.9 586h.1M282.7 589.8h.1M278.1 587.2h.1M284.7 586.2h.1M279.2 587.4h.1M278.5 591.2h.1M280.4 591.7h.1M289.4 586.4h.1M285.3 588.3h.1M279.8 588.7h.1M283.9 591.5h.1M289.9 586.6h.1M283.2 591h.1M290.6 583h.1M291 589.1h.1M292.2 588.5h.1M281.2 589.7h.1M291.6 588.2h.1M275.2 589.9h.1M278.7 585.5h.1M280.7 583.1h.1M280.3 585.4h.1M283.3 587.9h.1M284.6 584.1h.1M285.3 590.7h.1M290.6 588.5h.1M289.1 590.5h.1M292.5 592.7h.1M284.7 587.4h.1M293.1 592.3h.1M293.4 581.8h.1M285.1 579.3h.1M289.6 588.2h.1M286.4 587.7h.1M292.3 587.3h.1M291 589.6h.1M287.8 589.3h.1M286.7 585.1h.1M289.5 590h.1M285.5 590.1h.1M290.4 584.6h.1M285.5 586.9h.1M281.9 589h.1M282.2 586.9h.1M287.3 589h.1M287.7 594.1h.1M283.8 588.8h.1M281.5 587.8h.1M292.5 589.8h.1M284.1 585.8h.1M293 586.3h.1M291.6 583.9h.1M293.6 589.3h.1M289.3 584.4h.1M286.4 586.9h.1M288.4 586.2h.1M286.1 587.1h.1M293.7 581.1h.1M280.7 582.4h.1M283.9 581.8h.1M289.7 586.8h.1M285.9 584.7h.1M287.9 587h.1M288.7 584.6h.1M290.2 582.6h.1M293 578.2h.1M284.3 583.3h.1M290.8 582.5h.1M295.7 582.4h.1M296.6 587.7h.1M287.3 587.7h.1M297.4 588.9h.1M276.7 589.8h.1M288.2 582.2h.1M290.7 583.3h.1M288 587.2h.1M284.1 588.3h.1M283.2 585.5h.1M285.4 584.4h.1M296.9 585.2h.1M282.8 584.6h.1M284.3 585h.1M288.7 585.2h.1M288.3 583.5h.1M290 587.8h.1M285 584.8h.1M288.2 588.3h.1M293 583h.1M288.3 580.9h.1M283.4 585h.1M290.9 587.5h.1M286.5 581.3h.1M289.8 584.5h.1M289.9 585.4h.1M291.3 586.7h.1M291.9 583.7h.1M292.6 583.6h.1M288.3 590h.1M289.6 581.8h.1M294.9 587.6h.1M293.3 585.5h.1M289.6 584.3h.1M284.7 589.1h.1M286.2 583.6h.1M285.9 590h.1M292 583.9h.1M287.7 586.3h.1M292.7 579h.1M292.9 582.8h.1M285.4 582.3h.1M292.3 588.1h.1M289.3 584.9h.1M284.8 584.7h.1M292.5 579.3h.1M286.2 585.5h.1M280.4 582.3h.1M291.4 578.8h.1M286.8 583.5h.1M292.8 579.9h.1M293.8 584.2h.1M294.2 586.5h.1M290.2 584.7h.1M280.5 579.7h.1M283.9 582.4h.1M293 578.5h.1M287.1 579.8h.1M281.3 587.3h.1M289.1 587.8h.1M294.2 580.9h.1M279.9 588.9h.1M286.7 580.3h.1M291.9 583.7h.1M285.5 582.4h.1M289.4 583.6h.1M292.2 582.4h.1M287 585h.1M290.1 586.3h.1M288 581.5h.1M283.8 585.8h.1M282.7 582.3h.1M285 582.7h.1M292.7 577.4h.1M288.2 577.1h.1M295.8 580.6h.1M281.8 579.9h.1M295.3 585.8h.1M295.1 579.7h.1M288.5 586.2h.1M285.8 580.9h.1M284.7 578.7h.1M294.8 583.5h.1M291.3 583.4h.1M294 585.9h.1M289.2 580.9h.1M284.4 584.7h.1M286.8 577.8h.1M287.9 581.9h.1M293.1 584.5h.1M285.8 579.6h.1M287.7 578.5h.1M288.7 583h.1M289.4 577.4h.1M283.6 585.3h.1M284.5 583.8h.1M292.2 580.9h.1M284.5 582.4h.1M285.1 581.3h.1M290.2 578.3h.1M288.6 579.4h.1M283.9 579.8h.1M286.7 575.4h.1M288.1 579.5h.1M286.8 574.7h.1M293.3 582.1h.1M292.7 581.2h.1M283.8 580.6h.1M285.3 586.2h.1M287.2 582.1h.1M282.4 577.1h.1M287.2 582.2h.1M292.2 581.1h.1M281 583.3h.1M285.3 584.6h.1M298.4 582.5h.1M294.3 576.9h.1M301.8 580.9h.1M294.4 578h.1M289.4 577.1h.1M288.6 580.3h.1M290.9 584h.1M291.9 580.9h.1M289.9 585.7h.1M287 583.5h.1M280.5 577.9h.1M291.6 579.8h.1M303.7 587.2h.1M282.6 577.4h.1M289.4 583.5h.1M295.4 579.6h.1M283.4 576.5h.1M277.5 574.6h.1M292 580.9h.1M283.9 579.1h.1M297.7 579.2h.1M288.6 580.4h.1M292.5 579h.1M287.6 577.6h.1M290.5 577.3h.1M296.3 581.2h.1M295.2 584.2h.1M297.5 582.6h.1M291.8 578.3h.1M300.8 577h.1M287.2 576.4h.1M291.1 579.9h.1M294.9 578.2h.1M281.9 579.6h.1M294.6 578.9h.1M289.4 580.3h.1M296.8 578.6h.1M283.4 577.2h.1M289.3 573.9h.1M293.7 576.7h.1M292.4 579.3h.1M288.6 583.2h.1M287.4 576.9h.1M291.4 581h.1M290.3 574.6h.1M293.5 578.9h.1M300 576.7h.1M291.3 575.7h.1M283.3 577.4h.1M294.3 574.5h.1M287.1 574.1h.1M296.6 575.5h.1M293 574.9h.1M290.6 575.6h.1M279.3 577.5h.1M292.7 571.6h.1M289.5 576.1h.1M285.2 576.6h.1M281.2 577.9h.1M295.8 573.8h.1M290 581.1h.1M290.8 575.8h.1M286 577.7h.1M289.7 578.9h.1M283.2 580.2h.1M288.4 579h.1M286.9 573.7h.1M287.6 574.7h.1M288.5 579h.1M295.3 577.8h.1M287.7 576h.1M293 580.3h.1M288.8 576.9h.1M286.8 577.8h.1M294.9 567.9h.1M291.6 574.2h.1M279.5 576.6h.1M290 576.7h.1M284 581.5h.1M290.9 574.8h.1M297.5 577.5h.1M294.3 578.9h.1M280.7 580.2h.1M288.7 576.5h.1M294.7 573.8h.1M291.9 577.8h.1M290.2 577.1h.1M282.9 572.5h.1M285 576.7h.1M307.9 576.4h.1M289.7 575.6h.1M295 577.7h.1M285 578.5h.1M290.3 577.9h.1M281 571.5h.1M293.2 570.9h.1M292.2 576.6h.1M291.1 576.7h.1M291.6 576.9h.1M288.5 575.7h.1M304.1 578.8h.1M293.2 576.8h.1M287 576.3h.1M289.2 578.3h.1M286 567.8h.1M287.7 576.1h.1M301.8 577h.1M285.7 573.6h.1M285.9 573.7h.1M286.1 569.8h.1M292.4 574.7h.1M289.5 575.2h.1M299.8 574.5h.1M288.5 576.6h.1M282.6 576.3h.1M286.7 572h.1M290.8 578.7h.1M286.8 576.8h.1M292.1 570.5h.1M294.6 572h.1M283.4 572.1h.1M286.9 575.8h.1M286.9 578.2h.1M291.4 572.3h.1M286.4 574.8h.1M280.8 568.3h.1M286.2 575.9h.1M291.2 574.3h.1M289.3 568.3h.1M288.8 569.4h.1M294.2 574.2h.1M289.9 575.3h.1M291.8 574.8h.1M291.9 572.6h.1M283.9 573.6h.1M296.9 575.4h.1M289.1 574.4h.1M288 573.7h.1M287.3 573.1h.1M299.5 574.8h.1M297.1 570.6h.1M286.9 572.6h.1M292.7 572.1h.1M294.8 571.2h.1M296.5 575.3h.1M284.9 574.3h.1M289.1 575.5h.1M287.6 573.5h.1M292.7 565.3h.1M281.3 573h.1M289.5 575.4h.1M291.2 569.3h.1M291.6 570.7h.1M289 571.3h.1M291.7 568.9h.1M284.9 566.7h.1M300.1 570h.1M286.1 569.6h.1M287.1 571.5h.1M293 573.2h.1M291.6 571.1h.1M289.8 576h.1M290 573.5h.1M280.6 574.1h.1M290.9 574.7h.1M276.8 571.2h.1M289.1 571.4h.1M286.7 571.7h.1M292.9 571.3h.1M288.2 570.6h.1M287.8 571.2h.1M286.2 565.8h.1M295.9 566.4h.1M289 567.6h.1M288.2 568.5h.1M289.3 568.8h.1M283.5 571.9h.1M295.8 572h.1M290 568.3h.1M289.1 572.3h.1M286.5 573.5h.1M289.3 572h.1M287.2 569.8h.1M290.5 572.1h.1M291.1 568.3h.1M286 571h.1M280.8 573.9h.1M290.9 571.2h.1M286.1 573.3h.1M288.2 576.2h.1M291.3 567h.1M292.8 569.6h.1M287 570.4h.1M288.8 571.7h.1M292.4 570.7h.1M285.4 565.9h.1M285 570.5h.1M292.8 574.4h.1M282.5 569.7h.1M287.7 568.4h.1M289.4 568.8h.1M287.5 567.8h.1M290.6 572.4h.1M296.4 568.1h.1M283.8 568.8h.1M284.9 572.3h.1M284.9 569.7h.1M282.5 568.6h.1M289.7 573.6h.1M285.5 570.5h.1M279 566.2h.1M284.9 568.2h.1M290.8 571.2h.1M281.2 570.9h.1M283.5 574.5h.1M290.2 569.9h.1M287.9 569.4h.1M288.8 567.6h.1M292.2 570.2h.1M292.2 569.3h.1M291.9 567.5h.1M305.4 567.6h.1M286.7 572.1h.1M294.5 567.3h.1M280.2 564.2h.1M283.3 565.9h.1M287.2 570.8h.1M293 566.3h.1M290.5 570.4h.1M294.5 567.5h.1M284.5 570h.1M295 566.6h.1M297.1 572.6h.1M286.7 563.7h.1M285.1 567h.1M290.4 563.5h.1M299.3 574.3h.1M284.5 562.9h.1M287.1 569.1h.1M294.2 569.9h.1M287 562.6h.1M290.3 570.2h.1M286.5 568.7h.1M288.9 567.3h.1M282.5 568.9h.1M281.3 571.7h.1M283.7 569.3h.1M284.5 569h.1M286.9 569.4h.1M284.2 563.6h.1M286.6 567h.1M280.9 566.1h.1M280.1 568.3h.1M286.2 568h.1M299.2 566.9h.1M288.8 568.1h.1M286.4 564.8h.1M291.1 569.2h.1M273.4 566h.1M285.4 564.9h.1M292.8 565h.1M291 565h.1M285.1 568.4h.1M283.5 566h.1M281.8 564h.1M290.4 568h.1M281.6 563.2h.1M298.9 564.7h.1M282.9 567.8h.1M283.4 565.4h.1M291.2 569.1h.1M286.1 570h.1M286.3 565.8h.1M287 565.6h.1M289.5 567.2h.1M283.4 566.9h.1M284.5 564.9h.1M286.3 569.2h.1M288.3 569.8h.1M294.3 566.3h.1M284.2 564.3h.1M288.3 568.8h.1M294.4 562.9h.1M291.3 569.3h.1M297.5 565.4h.1M285.9 560.8h.1M282.4 561.9h.1M281.4 562.5h.1M278.9 564.7h.1M287.9 567h.1M285.6 567.8h.1M291.1 560.8h.1M284.8 561.6h.1M281.5 565.4h.1M285.5 568.9h.1M295.7 566.1h.1M285.2 564.5h.1M286.1 566.5h.1M282.7 566.5h.1M285 567.8h.1M292.5 569.6h.1M285.4 561.3h.1M278.3 564.2h.1M279.5 560.5h.1M284.5 562.3h.1M289.4 570.2h.1M285.1 565.8h.1M278.8 565.5h.1M282.9 562h.1M277.5 569.3h.1M278.6 561.7h.1M286.2 565.8h.1M287.6 565.3h.1M282 567.1h.1M286.2 559.6h.1M292.8 562.6h.1M289.7 559.6h.1M279.7 561.9h.1M282.1 566.2h.1M277.7 563.9h.1M280.6 564.9h.1M286.3 562h.1M295.7 563.4h.1M290.5 559.9h.1M284.8 563.7h.1M286 562.6h.1M281.5 555.2h.1M282.7 561h.1M284.2 565.8h.1M295.7 565h.1M290.1 565.2h.1M288.8 565.1h.1M284.2 562.7h.1M286.9 568.4h.1M289.1 567.9h.1M279.4 564.3h.1M287.3 565h.1M279 558.6h.1M275.5 562.5h.1M296.4 564.2h.1M279.8 564.5h.1M284 564h.1M283.3 560.1h.1M283 565.5h.1M286 565.3h.1M279.5 564.9h.1M284.8 562.6h.1M290.4 561.7h.1M285.8 563.8h.1M287.6 564.3h.1M290.7 563.5h.1M282.6 568.7h.1M284.5 563.1h.1M281.2 556.2h.1M281.1 562.3h.1M287.2 562.2h.1M288.4 564.8h.1M289.3 562.1h.1M285.1 561.6h.1M280.6 566h.1M278.9 561.9h.1M285.8 556.4h.1M288.2 561.2h.1M285.8 561.3h.1M277.6 562.7h.1M285.2 564.8h.1M287 557.6h.1M289.9 564.3h.1M288.3 563.5h.1M281.4 563.6h.1M283 569.9h.1M283.6 559.2h.1M283.2 566h.1M282.1 555.6h.1M290.6 561.4h.1M281.4 562.5h.1M279.4 557.4h.1M288.2 559.1h.1M286.2 560.6h.1M287.6 560.8h.1M274.1 562.4h.1M281.5 562.9h.1M284.3 564.4h.1M282.3 555h.1M282.2 561.9h.1M282.1 559.3h.1M290.6 560.1h.1M288.7 560.9h.1M277 558h.1M282.2 561.4h.1M279.9 556.7h.1M279 559.1h.1M279.6 558.9h.1M292.4 561.3h.1M279.9 560.5h.1M291.1 562.3h.1M283.2 556.9h.1M275.7 559.6h.1M283.2 556.1h.1M277.4 560.4h.1M273.3 555.9h.1M283.4 562h.1M285.2 563.2h.1M291.1 562.9h.1M281.4 564.6h.1M290.5 561.4h.1M278.8 560h.1M272.8 558h.1M271 557.8h.1M287.5 559h.1M290.2 558.9h.1M283.2 558.1h.1M285.2 558.8h.1M288.3 563.3h.1M284.4 555.9h.1M285.3 562.6h.1M285.8 559.7h.1M287.1 562.5h.1M270.5 563h.1M286.4 560.2h.1M280.1 559.6h.1M285.6 554.9h.1M286.2 559.1h.1M289.6 560.8h.1M281.9 559.1h.1M285.7 559.3h.1M285.3 557h.1M276.9 557.4h.1M276 556.9h.1M284.4 554.5h.1M277 560.9h.1M280.3 558.9h.1M276.9 556.1h.1M281.3 563.4h.1M283.7 552.9h.1M283.7 559.9h.1M284.9 554.1h.1M281.3 563.1h.1M277.3 558.3h.1M278.1 554h.1M279.6 560.2h.1M287.1 555h.1M279.4 555h.1M271.9 559h.1M288.9 561.4h.1M279.5 561h.1M286.8 556.5h.1M281.6 556.4h.1M282.8 562.3h.1M277.3 554.2h.1M285.8 557.6h.1M272.8 554.7h.1M277.8 555.8h.1M283.2 560.1h.1M280.9 557.8h.1M278.2 560.2h.1M288 556.7h.1M278.3 563h.1M286.1 555h.1M273.8 556.6h.1M287.3 556h.1M280.6 556.1h.1M284.8 561.2h.1M275.8 556.7h.1M279.7 554.3h.1M275.1 558.2h.1M281.4 557.9h.1M287.8 555h.1M283.2 554.9h.1M280.3 556.9h.1M279.9 551.9h.1M287.7 556.4h.1M275.3 550h.1M280.6 557.8h.1M285.4 559h.1M278.9 557.8h.1M273.5 556.4h.1M285 554.4h.1M279.9 556.3h.1M281.3 560h.1M275.6 559.6h.1M274.8 554.2h.1M277.1 555.8h.1M278.4 557.3h.1M280.7 562h.1M282.5 555.3h.1M282.4 557.6h.1M279.8 553h.1M276.9 556.5h.1M284.6 557.3h.1M280.3 557.5h.1M278.4 556.7h.1M287.3 559h.1M287 555h.1M280.6 552h.1M283.9 553.6h.1M273.4 553.4h.1M280.8 548.8h.1M273 557.4h.1M280.1 554.6h.1M272.1 559h.1M284.4 556.6h.1M274.4 556.3h.1M285 553.8h.1M278.4 553.4h.1M282.4 554.1h.1M278.1 550.8h.1M271.8 557.3h.1M287 557.1h.1M286.2 553.3h.1M279.4 555.7h.1M278.8 559.2h.1M273.4 553.2h.1M277.9 552.8h.1M283.5 549.3h.1M284.9 557.2h.1M281.1 558.5h.1M290.6 555.2h.1M283 555.8h.1M282 553.4h.1M276.2 556.4h.1M277.2 557.3h.1M283.4 553.5h.1M281.3 555h.1M277.9 556.7h.1M278.8 554.3h.1M269.5 555.3h.1M271.9 552.6h.1M286.1 558.5h.1M276.8 550.3h.1M280.5 552.6h.1M280.2 550h.1M283.8 557.9h.1M271.8 551.6h.1M275.4 555.7h.1M269.4 554.2h.1M277.5 551.5h.1M281.9 548.4h.1M272.2 551.6h.1M281.9 552.7h.1M274.7 555h.1M276.4 552h.1M277.2 554.6h.1M291.3 550.8h.1M280 553.3h.1M277.5 557.8h.1M282.3 555.5h.1M276.6 551.4h.1M280.1 553h.1M276 555.5h.1M273.1 551.8h.1M282.4 553.5h.1M281.9 551.5h.1M282 551.8h.1M284 554.9h.1M279.8 556.9h.1M279.3 551.1h.1M284.9 553.7h.1M283.4 553.2h.1M283.1 550.5h.1M271.8 549h.1M281.3 547.5h.1M269.4 549h.1M278.8 554h.1M273.9 555h.1M279.2 556.1h.1M282.2 551h.1M278.7 552.4h.1M279.9 553.4h.1M277.9 554.8h.1M278.1 554.8h.1M277.9 552.4h.1M282.1 555.4h.1M283.6 554.6h.1M276.8 553.4h.1M278.5 548.1h.1M272.6 557h.1M277.5 545.2h.1M277.2 553.3h.1M272.1 559h.1M283 555h.1M276.9 554.2h.1M281.7 554.1h.1M274.7 553.4h.1M277.3 552.8h.1M271.8 552.7h.1M276.7 552.6h.1M277.6 548.1h.1M280.6 554h.1M270.4 551.7h.1M272.6 550.7h.1M281.3 553.4h.1M285.8 552.2h.1M271.3 552.2h.1M265.1 556.7h.1M277.7 553.1h.1M277.2 549.6h.1M275.9 549.7h.1M274 552.7h.1M270.8 556.2h.1M271.4 554h.1M273.3 548.4h.1M278.1 552.2h.1M275.2 551.6h.1M273.3 552.9h.1M273.9 551.7h.1M281.3 548.1h.1M273.5 549.8h.1M272.4 548h.1M274.8 552h.1M275.5 547.3h.1M279.2 553.5h.1M276.3 548.9h.1M272 556.8h.1M282.9 552.1h.1M270.7 554.2h.1M275.7 555.3h.1M272.2 552.1h.1M273.9 552.8h.1M271.9 553.3h.1M273.1 548.4h.1M277.5 551.4h.1M265 550.7h.1M275.3 551.3h.1M284.4 549.1h.1M274.8 546.3h.1M268.1 549.3h.1M274.3 550.3h.1M277.8 552.8h.1M279.6 550.4h.1M277.1 548.9h.1M276.5 552.1h.1M272.5 542.2h.1M271.8 557.7h.1M274.4 549.1h.1M275.3 553.8h.1M276.4 550.3h.1M268.9 550h.1M269.3 551.8h.1M281.9 553.6h.1M272.1 548.2h.1M268.3 552h.1M277.5 552.9h.1M276.4 547.5h.1M264.8 553.1h.1M269.9 555.2h.1M263.9 547.2h.1M269.4 550.8h.1M276.9 548.6h.1M276.6 546.6h.1M271.4 546.8h.1M271.2 548.4h.1M275.2 559.4h.1M267.3 549.6h.1M276.9 550.3h.1M280.4 547.3h.1M277.4 548h.1M277.6 550.6h.1M274.9 548.5h.1M265.1 547.1h.1M277 549.4h.1M277.2 546.5h.1M276.7 552.8h.1M263.4 551h.1M282.8 548.1h.1M278.4 550.2h.1M277.7 549.1h.1M270.1 549h.1M272.1 548.5h.1M269.7 553.1h.1M271.1 546.9h.1M269.4 551.4h.1M263.4 551.5h.1M277.1 553.6h.1M274.3 547.4h.1M277.2 549.9h.1M282.5 549.7h.1M274.4 546h.1M275.4 549.8h.1M281.9 549.9h.1M282.7 552.9h.1M272.8 546.5h.1M273.4 549h.1M272.6 551.5h.1M279.5 552.8h.1M277.7 548.4h.1M278.3 547.1h.1M277.1 547.5h.1M281.8 542.4h.1M280.4 552h.1M276.2 550.5h.1M277.4 553.1h.1M284.1 549.6h.1M284 547.9h.1M278.3 550.8h.1M270.5 550.5h.1M273.3 551.7h.1M272.2 544.8h.1M270.3 549.7h.1M277.9 550.5h.1M272.8 551.7h.1M273.8 549h.1M281 549.2h.1M267.6 551.5h.1M275.5 548.1h.1M281.6 547.5h.1M278.6 549.5h.1M287.7 544.3h.1M276.4 550.1h.1M280.7 548h.1M272.6 552.9h.1M273.5 549.9h.1M275.3 550.2h.1M269.2 547.7h.1M275.3 549.5h.1M280.6 550.5h.1M278.2 549h.1M281.4 547.5h.1M275.1 545.1h.1M270.6 551.5h.1M275.3 544.2h.1M275.3 548.5h.1M270.2 550.1h.1M274.2 549.2h.1M279.9 547.5h.1M280.5 548.4h.1M274.3 552.6h.1M277.3 548.1h.1M274.9 549.7h.1M268.7 550.9h.1M275.5 545.7h.1M271.1 551.5h.1M269.6 554.9h.1M270.5 549.7h.1M262.7 548.7h.1M272.2 550.1h.1M275.5 547.9h.1M284.7 550.9h.1M271.2 549.8h.1M261.1 547.2h.1M280.4 547.3h.1M275.2 545.7h.1M278.2 549.1h.1M274.5 551.3h.1M282.2 550.9h.1M266.4 549.8h.1M275.7 545.7h.1M266.9 547.6h.1M273.1 548.6h.1M271 549.2h.1M275.8 547.9h.1M276.2 547.1h.1M267.1 548.7h.1M278.5 556h.1M264.5 547.4h.1M270.3 549.4h.1M270.3 549.1h.1M279.1 546.7h.1M274.1 553.1h.1M278.6 544.4h.1M284.2 546.9h.1M275.9 547.6h.1M272.3 546.9h.1M277.4 546.7h.1M267.8 547h.1M273.7 543.1h.1M277.4 546.6h.1M277.1 552.3h.1M275.2 550h.1M271.6 546.8h.1M264.9 548h.1M271.2 542.2h.1M275 552.7h.1M275.6 551.7h.1M272.5 545.8h.1M274 547.6h.1M268.4 551.4h.1M274.5 546.8h.1M274.7 548.2h.1M276.6 552.9h.1M270.9 545.4h.1M280.2 555.1h.1M270.9 546.1h.1M268.2 548.6h.1M274.3 547.9h.1M277.7 546.4h.1M271 545.2h.1M280.3 551.5h.1M279.9 546.3h.1M280.1 549.4h.1M277.2 550.2h.1M272.3 548.2h.1M266.6 547.1h.1M272.8 545.5h.1M273.6 551.9h.1M270.8 545.9h.1M269.1 549h.1M281.3 548.9h.1M273.4 545.2h.1M274.7 550.2h.1M271.2 548.4h.1M270.1 550.5h.1M279.4 549.5h.1M275.5 548.7h.1M270.1 546.4h.1M271.3 548.8h.1M273.1 551.2h.1M276.6 552.5h.1M276.8 547.9h.1M273.6 544.1h.1M280.9 547h.1M271.3 553.4h.1M268.2 546.9h.1M272.9 547h.1M273.6 549.2h.1M276.1 548.2h.1M276.4 547.6h.1M276 551.7h.1M265.1 547.9h.1M274 543.5h.1M259 549.4h.1M270.2 550.6h.1M273.1 548.5h.1M271.6 548.8h.1M268.3 547h.1M276.2 547.7h.1M274.9 548.4h.1M271 545.8h.1M276.5 546.2h.1M274.3 544.2h.1M273.8 549.5h.1M269.6 544.1h.1M271.8 548.7h.1M270.1 546.6h.1M276.8 548.1h.1M270.6 550.7h.1M272.4 546.5h.1M276.6 547.5h.1M276.8 546.6h.1M274 551.7h.1M274.7 549.8h.1M274.6 550.7h.1M272.9 549.6h.1M271.5 553.6h.1M268.5 550.6h.1M268 549.9h.1M278.6 545.5h.1M280.7 545.9h.1M268.7 549.3h.1M267.5 551h.1M274.8 541.2h.1M265.9 546.5h.1M274.5 545.6h.1M269.2 550.1h.1M267.3 549.1h.1M265.6 550.9h.1M278.5 545.2h.1M261 543.8h.1M276.4 546.7h.1M276.8 544.7h.1M267.5 547.9h.1M276.8 547.6h.1M267.1 549h.1M272.3 549.6h.1M271.1 546.6h.1M272 541.6h.1M273.1 551.5h.1M274.4 545.7h.1M264.8 551.7h.1M269.5 547.7h.1M272.9 546.6h.1M272.1 552.2h.1M269.6 553.3h.1M273.6 549.1h.1M276.2 550.7h.1M276.7 549.7h.1M269.2 552.6h.1M271.2 546h.1M276 550h.1M271.7 548.4h.1M274.6 553.4h.1M271.5 544.9h.1M269.3 549.6h.1M271 546.5h.1M274.7 550h.1M270.4 548.8h.1M268.4 546.4h.1M269.8 544.4h.1M272.9 547.9h.1M269 548.3h.1M271.9 546.1h.1M268.6 545.9h.1M277.5 543.5h.1M270.9 550.2h.1M266.2 545.4h.1M266.7 543.2h.1M276.6 547.3h.1M265.9 546.2h.1M271.7 546.9h.1M266.7 549.1h.1M266.7 546.7h.1M271.6 545.8h.1M271.1 546h.1M283.1 546.6h.1M273.9 545.4h.1M265.5 547.4h.1M269.1 546.8h.1M270.5 550h.1M279.5 553.1h.1M270.9 552.6h.1M278.5 546h.1M268.4 547.4h.1M279.6 547.2h.1M269.4 551.3h.1M269.2 547h.1M272.8 547.9h.1M258.8 544.1h.1M273.2 543.6h.1M275.6 547.2h.1M271.1 548.1h.1M261.6 545.5h.1M265.1 548h.1M277 546.8h.1M270.3 542.2h.1M268.2 546.7h.1M269.1 549h.1M276.4 547.4h.1M271.8 543.2h.1M272.8 547.5h.1M261.9 548.3h.1M266.9 550.1h.1M272.1 547.6h.1M277.9 547h.1M268.6 547.5h.1M270.5 545.2h.1M272.7 548.6h.1M267.6 543.3h.1M275.7 551h.1M274.3 550.2h.1M278.6 548.5h.1M277.9 547.3h.1M266.4 547.7h.1M269 549h.1M278.9 548.9h.1M275 553.3h.1M278.5 547.9h.1M267.1 553.4h.1M265.2 542.8h.1M260.9 550.8h.1M263.4 547h.1M269.6 551.2h.1M263.9 547.8h.1M271.7 551.5h.1M269.1 548.4h.1M269 550.6h.1M274.7 546.7h.1M272.8 543.7h.1M270.6 545.3h.1M268.4 550.4h.1M280.4 548.3h.1M269.7 546.9h.1M273.9 547.3h.1M274.9 551.9h.1M273.3 546.7h.1M273.9 545.9h.1M262.2 550.8h.1M279.3 551.3h.1M268.7 538.7h.1M267 549.4h.1M268.5 551.5h.1M266.6 549.1h.1M271.4 548.4h.1M263.8 547.5h.1M271.6 546.7h.1M263.8 546.3h.1M265.5 548.5h.1M274.5 548.5h.1M271.7 547.1h.1M270.8 542.3h.1M270.3 550h.1M267.4 549.5h.1M262.9 547.7h.1M269 548.8h.1M270.6 553.6h.1M255 543.6h.1M266.7 547.8h.1M266.9 545.7h.1M262.5 543.9h.1M265.8 551.7h.1M266.1 555h.1M274.9 546.8h.1M273.7 550.3h.1M264.2 543.2h.1M276.8 545h.1M274 549.4h.1M262 549.3h.1M272.5 551h.1M269.7 548.8h.1M271.7 546.9h.1M277.6 550.2h.1M277.1 548.5h.1M275.4 545h.1M267 550.3h.1M268.8 546.5h.1M270.4 543.2h.1M270.4 548.8h.1M268.1 544.4h.1M277.9 548.6h.1M264.8 545.8h.1M262 542.7h.1M260.6 545.2h.1M271.6 549.4h.1M269.1 550.2h.1M272.3 544.3h.1M265.7 548.2h.1M272.8 550.4h.1M263.2 542.2h.1M279.1 546.7h.1M274.3 547.6h.1M263.2 551.3h.1M271.9 551.5h.1M272.6 544.8h.1M269.5 550.2h.1M266.5 548h.1M275.2 544.2h.1M268 548h.1M274.3 547.3h.1M266.4 549h.1M266.9 548.7h.1M271.5 547h.1M273.8 550.7h.1M263.7 549h.1M269 546.7h.1M270.2 550.7h.1M269 546.5h.1M263.8 547h.1M269.7 544.9h.1M268.3 548.7h.1M276.2 546.7h.1M279.1 550.2h.1M273.8 549.1h.1M270.3 545.8h.1M269.5 547.7h.1M270.6 551.7h.1M279.3 549h.1M274.6 545.7h.1M260.6 547.3h.1M271.1 551.4h.1M281.3 548.3h.1M276.1 550.6h.1M271 549.9h.1M271.8 551.8h.1M265.1 541.4h.1M270.7 550.1h.1M275 546.1h.1M272.6 545.9h.1M273.3 545.6h.1M265.1 550.2h.1M264.2 543.7h.1M273.8 547.9h.1M259.3 550.9h.1M264.3 546.4h.1M269.6 553.1h.1M270 550.1h.1M269.4 548.9h.1M263.4 547.5h.1M267.2 544.8h.1M271.4 550.3h.1M272.3 546.7h.1M273.5 544.5h.1M271.5 548.9h.1M269.6 546.8h.1M270.6 546h.1M269 549.5h.1M261 550.9h.1M272.2 548.1h.1M265.3 546.4h.1M267.2 549.3h.1M273 550.6h.1M270.3 542h.1M265.5 546.5h.1M271.5 543.4h.1M269 547.6h.1M267.1 546.9h.1M280.5 547.4h.1M279.1 548.1h.1M266.6 548.9h.1M268 547.2h.1M259.4 548.3h.1M267.1 550.4h.1M270.3 546.4h.1M264.9 547.4h.1M268.1 545.3h.1M278.5 547h.1M274 551.1h.1M271.7 548.9h.1M272.1 549.8h.1M272.4 548.5h.1M270.4 545.9h.1M267.8 545.5h.1M270.7 550.7h.1M265.4 545.6h.1M265.2 547h.1M274.5 546.3h.1M271.2 541h.1M269.1 548.5h.1M266.9 542.8h.1M271.9 546.9h.1M278.1 545.6h.1M269 546.2h.1M270.2 542.3h.1M276 548.9h.1M268.7 546.2h.1M272.1 548.1h.1M267.8 546.7h.1M271.3 546h.1M268.2 546h.1M268.1 543.7h.1M265.4 548.2h.1M273.4 547h.1M253.2 543.2h.1M271.6 551.7h.1M275.3 546.6h.1M268.1 546h.1M277.9 547.6h.1M265.6 549.6h.1M273.7 541.6h.1M267 549.7h.1M274.1 543.7h.1M269.9 549.4h.1M271.5 544.2h.1M269 548.8h.1M272.2 544.5h.1M280.7 547.6h.1M263 546.2h.1M257.3 545.2h.1M269.7 553.5h.1M270.8 548h.1M273.5 547.6h.1M267.2 550.7h.1M272.4 551.2h.1M274.7 544.6h.1M267.9 546h.1M268.2 548.3h.1M269.2 545h.1M276.8 550.7h.1M270.2 544.3h.1M267.2 545.1h.1M265.9 544.5h.1M271.1 547.9h.1M272 544.7h.1M271.4 552.4h.1M271.1 546.1h.1M282.6 548h.1M267.4 549.3h.1M267 546h.1M274.9 545.4h.1M263.5 548.8h.1M274.1 543.3h.1M268.7 549.8h.1M271.4 549.2h.1M269.7 545.3h.1M267.7 546.2h.1M271.1 539.9h.1M261.5 547h.1M273.4 545.3h.1M270.4 544.2h.1M264 547.4h.1M270 545.7h.1M264.4 547.2h.1M270.1 546.3h.1M269.8 546h.1M272.7 548h.1M278.5 550.7h.1M270.1 543.7h.1M273.2 545.4h.1M277.2 543.1h.1M268.3 551h.1M270.3 548.9h.1M273.2 545.7h.1M274 544.7h.1M268.7 552.5h.1M269.4 547.9h.1M265.3 550.4h.1M266.3 544.8h.1M267.7 544.3h.1M264 546h.1M268.2 546.5h.1M265.9 544.4h.1M268.9 546.7h.1M266.2 546.6h.1M269.3 549.5h.1M273.2 548h.1M274.9 545h.1M276.5 547.2h.1M268.1 547.8h.1M265.5 551.4h.1M271.5 542.8h.1M265.2 545.4h.1M267.8 547.9h.1M274.3 549.4h.1M272.8 544.3h.1M275.4 549.9h.1M261.5 545.2h.1M268.7 544.7h.1M275 547.9h.1M270.6 543.5h.1M261 544.2h.1M266.5 544.3h.1M260.7 542.7h.1M268.3 547.5h.1M267.9 546h.1M269.9 546.5h.1M275.7 544.5h.1M271.5 543h.1M275.9 548.4h.1M275.1 546.8h.1M270 543.1h.1M272 550h.1M258 551.1h.1M266.8 547.7h.1M266.9 546.1h.1M274.3 546h.1M278.8 546.6h.1M273.5 544.9h.1M268.3 545.4h.1M272.9 550.9h.1M270.7 543.1h.1M267.8 542.9h.1M272.8 546.6h.1M265.7 545.6h.1M274.9 547.7h.1M268 548.5h.1M272.4 545.1h.1M271.4 551.4h.1M265.6 549.2h.1M270 548.2h.1M272.4 547.2h.1M269.9 546.5h.1M273.7 547.7h.1M263.9 547.7h.1M276.6 548.9h.1M271.6 541.7h.1M273.3 548.2h.1M277.7 543.8h.1M269.9 545h.1M269.8 541.8h.1M268.8 545.2h.1M269.3 550.5h.1M268.1 545.2h.1M276.1 544.8h.1M276.4 547.5h.1M268.1 544.5h.1M271.6 545.8h.1M271.4 544.8h.1M273.6 544.5h.1M268.8 545.8h.1M265.2 545.5h.1M270 542.5h.1M262.7 549.6h.1M269.7 545.9h.1M268 550.5h.1M270 541.6h.1M273.1 543.7h.1M272.9 545.9h.1M276.7 547.6h.1M269.2 550.1h.1M283.4 544.9h.1M275.9 547.3h.1M273 543.1h.1M266.5 550.1h.1M271.7 544.9h.1M279.3 549.6h.1M274.4 543.8h.1M271.4 550.1h.1M262.1 542h.1M267.8 548.8h.1M272.6 547.5h.1M272.4 546.5h.1M277.1 555.8h.1M273.7 549.7h.1M269.5 550.5h.1M272 546.7h.1M269.4 544.2h.1M269 543.6h.1M265.6 551.2h.1M273.6 548.9h.1M273.9 542.4h.1M271.7 543.9h.1M267.8 545.9h.1M272.3 546.5h.1M272.1 545.5h.1M271.7 549.6h.1M281.7 549.2h.1M270.5 547.3h.1M276 548.9h.1M277.2 549.6h.1M273.4 545.5h.1M264.4 549.1h.1M274.4 543.9h.1M271.6 545.2h.1M269.5 550.9h.1M269.8 552.8h.1M270.9 544.3h.1M272.7 552.6h.1M271.3 547.5h.1M261.5 547.7h.1M265.6 545.8h.1M278.4 545.4h.1M275.4 545.5h.1M270.5 546.8h.1M277.1 546.3h.1M271.9 543.5h.1M264.2 546.4h.1M271.2 546.8h.1M276.9 548.3h.1M267.9 546.7h.1M273.3 545.4h.1M261.5 543.9h.1M271.6 548.1h.1M270.5 542.3h.1M278.3 545.9h.1M269.8 547.5h.1M275.2 545.8h.1M269.2 544.5h.1M275.7 545.6h.1M274.3 540.9h.1M269.6 545h.1M269.7 540.8h.1M269.8 550.2h.1M273.3 544.6h.1M268.5 542.3h.1M273 543.9h.1M270 548.4h.1M276.9 547.5h.1M264.7 544.3h.1M278 542.6h.1M278.4 545.8h.1M276.9 544.7h.1M267 543.1h.1M279.3 544.9h.1M266.7 548h.1M265.2 545.4h.1M274 546.6h.1M274.4 545.6h.1M260.9 546.5h.1M272.2 545.3h.1M274.7 547.9h.1M273.4 549.9h.1M282.7 546.6h.1M270.8 542.3h.1M275.1 541h.1M280.3 548.4h.1M270 547.6h.1M268.4 542.8h.1M276 543.1h.1M273.6 545.5h.1M279.8 546.7h.1M279.8 548.1h.1M268.8 542.7h.1M262.6 545.9h.1M259.4 543.6h.1M261.1 544.1h.1M275.7 543.4h.1M270.5 544.4h.1M274.3 541.6h.1M273.6 545.3h.1M268.2 543h.1M278.7 547.6h.1M275 543.4h.1M271.4 542.1h.1M264.8 544.3h.1M270.2 542.2h.1M267.3 546.6h.1M270.8 541.3h.1M282.5 540.9h.1M274 542.9h.1M276.1 545.8h.1M277.7 545.4h.1M269.4 549.5h.1M272.7 545h.1M272.3 543.6h.1M274.6 550.1h.1M280 546.4h.1M276 547.6h.1M270 549.6h.1M274.1 540.7h.1M275.9 543.1h.1M274.4 547.4h.1M271.5 546.3h.1M279.3 541.8h.1M264.1 545.2h.1M271.8 551.2h.1M277.6 547h.1M273.2 540.2h.1M267.4 544.5h.1M274.5 544.2h.1M274.1 547.3h.1M270.3 544.2h.1M269 548.6h.1M264.1 547h.1M277.2 539.9h.1M271.3 548.3h.1M269.3 543.8h.1M273.3 548.9h.1M276.4 543.5h.1M267.1 541.2h.1M275.1 539.5h.1M270.8 546.9h.1M267.9 544.4h.1M273 547.3h.1M267.2 545.5h.1M273.2 545.6h.1M266.1 546.7h.1M269.5 545h.1M269.5 550.5h.1M273.7 551.1h.1M270.5 544.5h.1M280.4 544.3h.1M275.6 548.4h.1M271.8 543.5h.1M272.3 548h.1M275.5 548.8h.1M272.3 544h.1M268.9 544.3h.1M271.5 544.8h.1M269.8 543.2h.1M272.8 547.7h.1M272.7 543.6h.1M279 548.8h.1M272.8 544.4h.1M265.8 540.9h.1M274 548.9h.1M282.9 547.4h.1M272 546.5h.1M267.4 544.9h.1M268.7 545.2h.1M281 551h.1M275.3 546.2h.1M266.5 543.4h.1M281.4 548.3h.1M278.2 546.4h.1M282 544.5h.1M273.4 552.7h.1M270.3 546.4h.1M272.5 549.2h.1M273 544.2h.1M272.8 547.3h.1M269.6 541.2h.1M273.7 544.2h.1M276.8 544.2h.1M271.4 545.9h.1M276.3 547.9h.1M274.6 540.3h.1M274.8 545h.1M274.6 546.4h.1M273.7 548h.1M273.7 548.8h.1M269.9 538.6h.1M270.5 552.7h.1M273.8 544.7h.1M276.3 543.8h.1M276.3 545.3h.1M284.8 548.2h.1M276.4 546.9h.1M278 542.1h.1M280.4 543.3h.1M278.9 545.4h.1M279.4 548.9h.1M277.9 543.7h.1M273.7 546.6h.1M273.2 544h.1M274.6 544.1h.1M277.6 543.8h.1M275.6 543.1h.1M267.1 547.2h.1M279.8 543.7h.1M279 545.9h.1M269.8 548.3h.1M265.9 544.9h.1M278.6 542.1h.1M282.7 543.5h.1M281.1 544.6h.1M278.5 544.9h.1M287.2 546h.1M280.9 546.9h.1M277 544.2h.1M278.1 547.6h.1M280.4 546.4h.1M275.6 546.9h.1M271.6 544.9h.1M266.7 543.1h.1M275.5 541.2h.1M270.9 547.5h.1M278.6 548h.1M281.8 546.8h.1M280.1 545.9h.1M282.4 540.9h.1M275.6 547.9h.1M280.3 545.3h.1M274.9 547.3h.1M275.6 542h.1M281.9 544.1h.1M277.3 540.7h.1M264.4 546.3h.1M284.2 538.9h.1M274 546.6h.1M277.3 545.2h.1M276.3 542.5h.1M281.5 547.7h.1M278.1 538.9h.1M284.3 544.9h.1M278.9 550.3h.1M282.5 544.8h.1M282.3 546.5h.1M274.5 545.2h.1M269 540.6h.1M278.2 548.7h.1M272.7 548.1h.1M278 549.7h.1M275.6 552.9h.1M279.4 544.2h.1M278.5 539.9h.1M278.9 544h.1M279.7 544h.1M264.5 537.8h.1M274.2 541.4h.1M281.4 541.9h.1M279.3 544.4h.1M284.5 545.1h.1M278.2 542.1h.1M279 546.6h.1M276.7 546.8h.1M272.3 544.2h.1M279.1 544h.1M283 546.6h.1M274.3 542.3h.1M277.1 542.9h.1M275.3 541.8h.1M280.8 545.3h.1M278.6 547h.1M266.4 544.9h.1M276 546.7h.1M279.6 546.2h.1M284.2 539.5h.1M273.1 547.9h.1M284.9 542.4h.1M283.4 547h.1M271.7 542.9h.1M279.7 544.4h.1M286.6 546.2h.1M282.3 542.8h.1M272.3 542.9h.1M284.7 549.6h.1M274.3 544.2h.1M266.4 548.1h.1M272.2 547h.1M284.1 541h.1M274 546.5h.1M284.5 543.2h.1M273.2 545.5h.1M284 541.6h.1M274.4 547.7h.1M279 542.3h.1M278.1 545.9h.1M282.9 545.4h.1M278 540h.1M280.6 546h.1M279 544.6h.1M278.6 547.1h.1M276.3 541.3h.1M282.3 543.5h.1M276.7 545.7h.1M276.9 544.4h.1M273.7 547.8h.1M272.7 547.9h.1M273 542.4h.1M277 546.7h.1M279.9 543h.1M273.1 547h.1M279.1 545.4h.1M278.1 542.9h.1M282.1 545.1h.1M284.3 544.8h.1M272.3 546.4h.1M279.2 543.7h.1M264.4 541.9h.1M279.8 542.6h.1M280.2 545.9h.1M278.9 541.7h.1M281 545.3h.1M277.8 539.2h.1M273.2 546.4h.1M277.7 539.4h.1M278.1 544.4h.1M281.9 545.4h.1M280.7 542.2h.1M271.1 542.6h.1M285.3 540.2h.1M283.1 540.2h.1M272.8 544.5h.1M275.1 543.6h.1M273.5 544.6h.1M282.9 540.3h.1M282.4 545h.1M283.5 537.8h.1M284 540.8h.1M278.6 542.7h.1M275 541.6h.1M276.4 544.4h.1M283.2 543.1h.1M283.4 544.3h.1M285.1 540.3h.1M280.4 543.8h.1M280.4 544.9h.1M283.5 544.3h.1M282.2 543.1h.1M279.1 542.2h.1M284.8 546h.1M285.7 542.6h.1M278.9 550.6h.1M284.8 540h.1M283.2 544.8h.1M278.2 543.1h.1M275.8 542.5h.1M276.1 540.8h.1M278 541.5h.1M283.1 546.7h.1M279 543h.1M282.7 543.6h.1M289.2 536.8h.1M268.8 540.9h.1M282 546h.1M277.5 543.9h.1M279.4 544.9h.1M290.2 537.5h.1M291.2 546.5h.1M279.3 545h.1M280.7 544.9h.1M283 545.8h.1M276.1 545.3h.1M277.7 542.9h.1M284.5 542.5h.1M282.2 544.5h.1M281.3 540.4h.1M283.1 544.2h.1M291.3 540.9h.1M285.8 542.6h.1M279.5 548.3h.1M280.3 545.9h.1M281.5 541.3h.1M279.9 542.5h.1M279.9 548.8h.1M283.1 539h.1M289.7 544.7h.1M285.1 548h.1M277.1 544.6h.1M280.3 542.8h.1M279.5 544h.1M286.4 545.8h.1M282.3 547h.1M270.1 543.9h.1M282.6 544.6h.1M287.6 544.2h.1M288.5 543h.1M285.3 543.8h.1M280.9 544.9h.1M284.7 541.1h.1M286.5 542.8h.1M282.5 536.2h.1M281.9 538.3h.1M286.1 541.4h.1M280 543h.1M275.8 543.6h.1M276.3 542.9h.1M286.1 546.9h.1M288.8 542.9h.1M277.6 544.8h.1M289.4 541.1h.1M288.4 543.1h.1M269.7 543.7h.1M290.8 545.4h.1M287 544.6h.1M274.2 537.1h.1M277.1 542.4h.1M277.3 541.3h.1M285.7 547.4h.1M274.1 540.6h.1M281.6 542.9h.1M271 551.4h.1M285.3 544.4h.1M273 544.3h.1M276.5 544.8h.1M283.4 543.6h.1M285.1 541.5h.1M283.9 536.6h.1M286.5 542.6h.1M295 543.4h.1M272.1 547.3h.1M279.7 540h.1M282.9 546.6h.1M292.3 542.1h.1M284.1 543.7h.1M280 541.7h.1M282.4 542.9h.1M288.1 537.9h.1M285.3 544.1h.1M289.6 542.1h.1M281.3 543.4h.1M280.4 541.5h.1M279.9 541.3h.1M278.2 541.4h.1M279.4 541.1h.1M276.8 545.6h.1M284.5 542.9h.1M277.9 544.8h.1M281.9 542.8h.1M283.5 542.8h.1M287.7 540.9h.1M279.9 543.5h.1M282.1 544.6h.1M287.3 546.8h.1M287.5 542.3h.1M282.3 542.1h.1M289.6 542.1h.1M280.2 539.9h.1M287.7 540.3h.1M271.8 544.6h.1M285.8 544.8h.1M288.9 544.1h.1M286.1 542.8h.1M280.6 537h.1M275.1 543.7h.1M288 542.8h.1M280.7 544.4h.1M284.2 542.7h.1M282.6 539.5h.1M279.6 543.7h.1M291.9 547.5h.1M283.4 543.9h.1M283.9 543.1h.1M286.2 545.2h.1M279 547.5h.1M283.7 540.1h.1M295.1 540.3h.1M284.1 540.8h.1M289.9 535.5h.1M285.9 538.4h.1M291.6 548.4h.1M288.4 540.6h.1M289.8 548.7h.1M285.5 541.7h.1M291.2 539.1h.1M283 542.6h.1M286 546.4h.1M285 542.1h.1M280.8 543.9h.1M287.1 546.1h.1M287.6 541.5h.1M287.5 542.9h.1M289.9 543.6h.1M284.6 543.1h.1M288.9 544h.1M294.8 546.5h.1M281.6 544.2h.1M289.1 545.8h.1M287.6 544.7h.1M280.4 541.3h.1M288.3 543h.1M285.6 545.5h.1M279.2 540.6h.1M287.4 543.1h.1M284.4 546.5h.1M284.7 544.1h.1M286.5 540.9h.1M291.4 545h.1M283.7 546.4h.1M282.4 542.9h.1M281.4 543.8h.1M283 544.7h.1M283.3 544.7h.1M287 545h.1M286.8 544.4h.1M282.7 540.3h.1M288.1 540.8h.1M288 543.5h.1M286.7 543.6h.1M288.8 541.7h.1M287.9 545.7h.1M289.5 545.7h.1M285.9 543.4h.1M293.2 544.6h.1M287.7 545.5h.1M283.9 543.3h.1M288.3 543.5h.1M292 544.4h.1M289.8 542h.1M286.8 543.5h.1M288.6 544.5h.1M286.9 544.7h.1M293.9 543.6h.1M284.7 545.9h.1M291.9 543.9h.1M290.1 539.6h.1M288.5 543.2h.1M294.3 544h.1M293.1 543.2h.1M286 542.6h.1M283 542.5h.1M290.6 540.6h.1M287.2 545.8h.1M287.8 544.6h.1M288.1 544.6h.1M280.5 546.5h.1M289.6 541.8h.1M287.4 542.6h.1M290.7 540.6h.1M284.2 540.3h.1M291.4 541.1h.1M288.8 540.7h.1M288.2 541.9h.1M285.9 545.1h.1M288.8 541h.1M296.5 541.1h.1M284.5 539.6h.1M293.8 543.3h.1M289.6 545h.1M288.9 544.3h.1M294.1 543.4h.1M291.2 543.3h.1M289 545.7h.1M290.4 543.5h.1M282.1 541.2h.1M286.2 542.9h.1M289.7 543.2h.1M287.9 543.6h.1M289.7 544.7h.1M282.5 544.9h.1M295.1 545.1h.1M287 541.2h.1M288.3 545.5h.1M289.4 539h.1M277.4 543.3h.1M296.5 539.8h.1M287.8 542.1h.1M291 543.7h.1M284.5 542.2h.1M287.7 543.6h.1M291.2 544.2h.1M285.7 539.8h.1M287.4 541.1h.1M287.4 539.6h.1M287.9 538.8h.1M293.1 541h.1M285.5 542.3h.1M284.4 542.7h.1M288.6 545.3h.1M291.6 540.4h.1M292.8 542.2h.1M292 536h.1M288.2 541.1h.1M294.1 539.9h.1M290.9 541.6h.1M285.1 540.8h.1M291.6 541.6h.1M289.2 541.8h.1M290 542.5h.1M289.5 539.1h.1M289 542.1h.1M295.2 540h.1M295 540.9h.1M295.1 537.9h.1M288.7 537.3h.1M284.8 541h.1M292.9 539.6h.1M292 539.5h.1M296.6 539.9h.1M297.8 544.6h.1M288.2 542.1h.1M289.7 543.9h.1M292.3 544.6h.1M290.6 540.5h.1M288.6 541.3h.1M292.6 541.2h.1M292.2 542.6h.1M291 539.8h.1M287.8 540h.1M290.1 543.1h.1M294.3 539.7h.1M293.3 539.3h.1M294.1 538h.1M294.6 540.8h.1M292.1 540.9h.1M287.7 541.4h.1M291.3 542.6h.1M293.4 543.5h.1M293.2 538.9h.1M293.9 538.8h.1M288.9 541.3h.1M288.5 540.4h.1M294.7 539.9h.1M288.3 538.6h.1M300.9 540.3h.1M291.4 541.2h.1M296.7 539.3h.1M289.9 539.6h.1M290.3 537.6h.1M286.6 540.5h.1M291.5 543.1h.1M291.2 539.7h.1M297 537.1h.1M295.5 538.8h.1M289.1 541.1h.1M293.3 538.2h.1M293.7 543.4h.1M295.7 540.6h.1M291 540.2h.1M294.5 540h.1M294.4 542.3h.1M287.9 540.7h.1M294.6 539.9h.1M290.7 543.3h.1M292.6 540.2h.1M291.1 539.8h.1M291.9 540.2h.1M287.9 537.3h.1M290.8 539.7h.1M291 541.8h.1M292.8 541.8h.1M293.7 536h.1M294.5 543.2h.1M293.4 540.3h.1M289 540.9h.1M289.4 537h.1M295.2 541.4h.1M293.5 539.4h.1M292.2 542.8h.1M295.7 539.1h.1M293.4 540h.1M298.1 538.7h.1M291.4 540.3h.1M294 536.9h.1M294 539.1h.1M293 540h.1M295.2 543h.1M296.5 541.4h.1M292.9 539.7h.1M292.1 538.4h.1M297.2 543.9h.1M296.7 540.5h.1M296.2 541.3h.1M294.1 539.6h.1M296.5 542.8h.1M294.7 536.5h.1M297 540.1h.1M291.7 538.1h.1M283.8 538.2h.1M293.7 540.7h.1M294.2 537.8h.1M293 539.8h.1M296.4 540.3h.1M297.3 536h.1M295.1 540.3h.1M291.2 540.1h.1M294.2 536.9h.1M291.6 540.3h.1M297.9 541.4h.1M298.5 540.2h.1M292.4 538.9h.1M295 543.2h.1M293.1 536.8h.1M292.6 541.2h.1M293.8 540.7h.1M294.3 541.3h.1M290.8 538.4h.1M298 538.8h.1M293 542.1h.1M291.3 537.6h.1M299.8 542.6h.1M296 536.9h.1M291.7 537.6h.1M295.7 541.9h.1M299 541.1h.1M294.3 540.7h.1M298.7 540.9h.1M295.9 538.5h.1M299.7 542.3h.1M295.3 540h.1M299.7 542.3h.1M301.9 539.4h.1M300.3 537h.1M288.7 538.5h.1M297.2 536.4h.1M295.5 539.7h.1M297.5 539.4h.1M301.3 538.4h.1M296 539.9h.1M301.1 538.1h.1M302.1 540.3h.1M296.3 538.8h.1M294.9 540.2h.1M297.9 542.7h.1M288.9 536.5h.1M295.8 539.9h.1M296.3 537.5h.1M298.9 538.1h.1M298.3 540.6h.1M300.8 535.9h.1M295.1 539.7h.1M296.9 537.4h.1M299.6 539.1h.1M299.1 540.6h.1M296.3 540.9h.1M298.2 539.4h.1M301 535.8h.1M292.1 536.7h.1M300.4 539.1h.1M295.7 536.9h.1M291.9 539.5h.1M297.5 539.6h.1M300.6 539.4h.1M302 538.1h.1M302.5 539.7h.1M295.8 539.2h.1M306.2 536.2h.1M297.1 537.7h.1M299.6 538.7h.1M305.2 538.2h.1M301.2 537.6h.1M295.4 538.2h.1M298.2 539.8h.1M303.4 537.7h.1M302.6 536.6h.1M304.8 535.7h.1M297.3 539h.1M297.8 536.4h.1M301.3 536.6h.1M302.2 535.7h.1M302.4 540.1h.1M300.7 540.5h.1M298.3 538.4h.1M302.8 536.5h.1M298.1 538.1h.1M298.2 538h.1M290.9 538.5h.1M299.9 540.8h.1M301.5 537.3h.1M298 536.7h.1M297.7 537.3h.1M302.5 539.2h.1M300.9 537.8h.1M298.4 539.4h.1M296.3 539.5h.1M301.8 537.4h.1M300.4 536.5h.1M305.9 539h.1M304.1 537.8h.1M297.6 538h.1M305 541.3h.1M303.1 538.2h.1M301.9 540.3h.1M297.2 539.9h.1M297.9 538.7h.1M303 538.8h.1M300.9 540.7h.1M299.3 537.6h.1M297.6 538.6h.1M303.1 538.1h.1M294.3 539.1h.1M302.7 536.6h.1M299.9 538.3h.1M298.1 538.8h.1M300.9 536.1h.1M291.6 536.5h.1M305.2 540.5h.1M299.5 536.2h.1M305.3 539.6h.1M304.7 541.8h.1M302 538.4h.1M298.1 538.5h.1M297.3 540.3h.1M299.9 541.2h.1M299.5 539.1h.1M298 539.9h.1M299.4 540.4h.1M303.9 534.5h.1M297.6 538.4h.1M301.9 541.8h.1M299.2 537.6h.1M302.1 538.4h.1M307.8 537.8h.1M296.9 541h.1M303.5 535.1h.1M299.9 537.4h.1M302.5 539.5h.1M301.3 537h.1M298.9 537.7h.1M302.4 538.9h.1M295 536.3h.1M303.7 541.2h.1M305.1 533.6h.1M295.7 539h.1M302.2 538.1h.1M308.6 535.9h.1M306.1 538.2h.1M300.1 534h.1M298.2 540.9h.1M302.4 539.5h.1M304 537.7h.1M304.9 538.6h.1M301.5 537.4h.1M299.7 538.5h.1M301.5 540.1h.1M301.1 536.2h.1M297.4 539.2h.1M311.9 537.6h.1M296.3 539.5h.1M301.4 539h.1M304.8 539.1h.1M304 537.2h.1M307.2 537.2h.1M307.5 536.6h.1M304.1 536.3h.1M306.7 536.4h.1M300.9 539.5h.1M304.7 537.5h.1M300.3 537.6h.1M304.9 539h.1M301.3 538.7h.1M297.3 537.8h.1M300.6 539.1h.1M302.2 542.1h.1M304.1 538.3h.1M296.1 535h.1M306.9 536.4h.1M307.2 536.3h.1M305.6 536.1h.1M305 538.9h.1M306.5 536.3h.1M299.3 538.7h.1M304.3 538.9h.1M299.6 539.1h.1M303 535.6h.1M302 539.4h.1M305.6 537.7h.1M305.4 536.7h.1M309.1 537.5h.1M300.3 534.7h.1M303.3 536.7h.1M307.5 532.5h.1M307.6 539.7h.1M303.5 539.9h.1M302.8 537.1h.1M303.5 540.5h.1M308.9 539.6h.1M301.3 537.7h.1M301.3 537.8h.1M307 540.1h.1M304.6 537.9h.1M304.7 535.4h.1M310.7 538.2h.1M310 539.1h.1M300.9 536.3h.1M307.4 539.1h.1M307.4 537.5h.1M308 535.6h.1M304.3 535.2h.1M308.5 538.2h.1M307.5 537h.1M296.6 535.9h.1M305.6 537.6h.1M308.2 539.6h.1M303.2 539h.1M299.3 538.8h.1M299.5 538.3h.1M298.9 538.2h.1M312 537h.1M309 539.4h.1M297.5 533.5h.1M306.7 535.1h.1M305.3 542.6h.1M313 538.6h.1M304.4 538.4h.1M307.9 537h.1M312.3 533.6h.1M312.1 536.5h.1M311.2 537.1h.1M304.8 536h.1M307.6 538h.1M317.1 540.5h.1M306.6 534.9h.1M307.1 538.5h.1M300.9 537.4h.1M311.2 536.4h.1M301.2 538.8h.1M312.3 536.9h.1M307.3 539.7h.1M308.6 536h.1M305.6 537.2h.1M306.8 539.7h.1M303.3 538.2h.1M306.3 533.2h.1M309.3 537.7h.1M302.3 533.8h.1M311.6 540.6h.1M308.6 536.8h.1M310.8 535.9h.1M306.5 539.1h.1M304.4 539.5h.1M309.3 539.8h.1M301.9 539.8h.1M308 538.5h.1M305.5 535.2h.1M312.3 538.2h.1M310.2 538.6h.1M310.4 534.1h.1M307.3 536.5h.1M315.3 539.9h.1M305.3 534.2h.1M310.8 538.4h.1M313.1 534.9h.1M314.1 537.6h.1M312.8 537.8h.1M306.9 535.7h.1M313.1 530.8h.1M312.1 538.6h.1M306 538.8h.1M307.9 534.6h.1M307.3 538.4h.1M308.5 535.7h.1M310.7 538.7h.1M312.5 537.6h.1M313.5 535.8h.1M306.8 534.3h.1M309.5 537.1h.1M309.7 534.5h.1M313.3 533.6h.1M306.4 531.1h.1M313.3 538.6h.1M309 537.7h.1M305.4 534.8h.1M306.3 537.6h.1M308.3 537.3h.1M305.9 534.3h.1M311.1 537.6h.1M311.2 535.7h.1M310.6 533.8h.1M305.9 537.6h.1M306.4 534.5h.1M306.4 540.3h.1M308.2 537.6h.1M309.1 541.9h.1M309.4 539.1h.1M313 537.9h.1M309.8 534h.1M311.8 541.4h.1M311.7 541.2h.1M312.3 538.9h.1M308.2 536.8h.1M311.5 539.4h.1M306.3 534.2h.1M309.5 536.9h.1M311.5 540.5h.1M307.9 540.8h.1M313.3 537h.1M305.5 539.9h.1M317.6 537.9h.1M313.1 536.1h.1M304.6 535.3h.1M306.3 534.2h.1M308.4 535.7h.1M313.1 539.5h.1M310.5 538.5h.1M310 536.3h.1M312.4 535.6h.1M312.1 535.9h.1M308.2 535.5h.1M316.5 537.3h.1M309.6 537.2h.1M308.5 535.9h.1M309.9 533.5h.1M310.6 537.7h.1M312.1 536.5h.1M314.8 535.2h.1M315 538.8h.1M311.9 539.8h.1M308.4 537.3h.1M310.7 535.3h.1M310 537.6h.1M312.5 538.1h.1M308.9 536.6h.1M310.8 535.5h.1M311.1 532.6h.1M307.2 535.8h.1M311.4 537.9h.1M310.8 540h.1M307.6 540.3h.1M309.4 534.4h.1M310.1 535.4h.1M311.6 535.8h.1M314.2 538.2h.1M309 539.1h.1M313.5 536.7h.1M315.5 536.5h.1M317.5 534.3h.1M316.8 535.7h.1M315.1 535.8h.1M318.3 537.4h.1M315.2 534.6h.1M307.6 537.1h.1M317.8 537h.1M307.7 540h.1M310.9 538.2h.1M309.9 535.3h.1M313.6 531.5h.1M309.3 535.8h.1M311.2 533.5h.1M316.3 536.2h.1M312 532.9h.1M312.2 537.8h.1M315.4 537.7h.1M312.2 536.1h.1M313 537.8h.1M311.7 536.1h.1M315.2 535.9h.1M314.8 536.6h.1M310.8 539.3h.1M316.2 534.6h.1M310.7 535.4h.1M311.9 534.5h.1M314.6 535.7h.1M310.7 539.3h.1M312.7 537h.1M309.4 534.2h.1M310.5 538.1h.1M316.3 535.9h.1M312.8 537h.1M310.9 535.9h.1M317 534.6h.1M316 536.1h.1M314.4 536h.1M316.7 538h.1M315.6 533.2h.1M314.2 538.6h.1M310.4 533.4h.1M313.1 537.9h.1M309.6 537h.1M312.8 536.2h.1M315.2 536h.1M311.9 536.6h.1M318.9 537.5h.1M316.1 534.5h.1M312.1 533.8h.1M316.9 538.3h.1M316.8 537.7h.1M314 535.5h.1M319.4 535.4h.1M318.8 539.4h.1M311.6 534.5h.1M321.1 538.1h.1M320.6 539.5h.1M314.4 540.1h.1M320.1 538.2h.1M316.6 535.6h.1M312.9 533.5h.1M312.7 534.8h.1M316.1 534.9h.1M309.6 536.6h.1M308.6 535.6h.1M317.8 533.3h.1M311.4 536.1h.1M319.9 536h.1M314 536.8h.1M309.6 533.3h.1M317.8 537.8h.1M317.4 536.5h.1M317 532.8h.1M311.8 535.5h.1M318.7 536.6h.1M315.6 534.1h.1M315.9 537h.1M317.4 536h.1M322.4 534h.1M318.5 533.8h.1M312.8 537.5h.1M315.7 534.7h.1M317.2 541.1h.1M315.1 535.5h.1M321.3 535.1h.1M325.2 533.7h.1M316.4 538.1h.1M316.4 535.2h.1M312.4 535.9h.1M320 535.7h.1M313.8 538.8h.1M320 537.3h.1M316.4 534.5h.1M321 536.3h.1M315.9 535.8h.1M318.4 537.8h.1M317 535.4h.1M313.3 535.6h.1M316.4 536.8h.1M317 535.1h.1M316.7 537.4h.1M316.8 535.8h.1M316.3 535.5h.1M318.2 537.4h.1M316.1 535.8h.1M318.4 537.6h.1M321.7 533.6h.1M319.9 535.2h.1M319.2 537.9h.1M323.3 535.2h.1M322 531.4h.1M318.8 531.8h.1M316.2 533.9h.1M313.8 536h.1M314.9 533.8h.1M315.9 535h.1M320.3 535.2h.1M315.5 532.7h.1M320.5 536.6h.1M320.6 534.7h.1M322.6 537.1h.1M326.2 535.3h.1M321.4 539.1h.1M317.8 536h.1M316.9 535.5h.1M321.3 536.4h.1M315.1 540.8h.1M316.2 538.3h.1M318.8 537.4h.1M320.6 537.6h.1M321.3 539.4h.1M316.4 533.5h.1M313.1 532.1h.1M320.3 532.7h.1M313.3 536.5h.1M317.7 536.2h.1M309.6 533.6h.1M313.5 536h.1M318.4 536.8h.1M322.7 542.7h.1M318.3 537.2h.1M323.1 535.7h.1M316.8 537.6h.1M323.1 537h.1M317.7 531.6h.1M316.6 538.2h.1M324.1 533.9h.1M321 538.4h.1M324.6 534.1h.1M319.5 535.8h.1M316.4 539.3h.1M314.2 536.7h.1M323.6 536.8h.1M322.7 531.6h.1M320.4 536.5h.1M321.1 533.4h.1M319.4 534.4h.1M324.9 534.7h.1M319.8 535.6h.1M319.5 539.3h.1M325.1 536.7h.1M319.1 535.1h.1M314 536.1h.1M321.3 535.6h.1M317.1 538.3h.1M322.8 536.3h.1M325.6 536.5h.1M326.4 535.6h.1M320.8 534.8h.1M323.3 535.1h.1M323.2 536.2h.1M319.3 540.2h.1M325.5 535.5h.1M324.7 536.6h.1M320.4 539.5h.1M324.6 537.1h.1M323.6 537.2h.1M324.4 536.4h.1M322.5 536.2h.1M316.8 535.6h.1M326 538.9h.1M322.6 534.4h.1M325.3 534.4h.1M318.5 533.2h.1M315 539.6h.1M322 530.4h.1M319.1 532.6h.1M324.7 534.7h.1M319.3 537.1h.1M327.2 534.4h.1M321.6 534h.1M324.9 536.3h.1M322.2 534.3h.1M326.7 535.3h.1M325.7 538.2h.1M317.9 535.5h.1M322.6 533.8h.1M321.4 536.5h.1M316.2 535.3h.1M322.8 535h.1M321.3 533.1h.1M323.3 536.2h.1M322.9 538.4h.1M323.3 535h.1M329.1 537.1h.1M327 538.3h.1M321.6 533.9h.1M328.8 532.1h.1M321.5 538.9h.1M321.1 537.3h.1M320.6 540.4h.1M323.1 537.4h.1M318.9 537.2h.1M325.7 534.9h.1M325.6 535.4h.1M324.7 534.8h.1M321.8 533.4h.1M324.8 535.4h.1M321 539h.1M323.4 535.6h.1M320.9 537.6h.1M323.9 534.2h.1M322.5 537h.1M323.7 538.1h.1M326.8 540.1h.1M321.2 535.7h.1M322.6 535.4h.1M323.6 535.2h.1M326.4 533.5h.1M323.6 537.1h.1M328.3 535.7h.1M326 535.9h.1M326.6 535.4h.1M327.3 538.4h.1M331.9 535.1h.1M327.8 536.3h.1M326.4 534.9h.1M325.4 536.9h.1M325.1 535h.1M329.1 536h.1M324.2 535.8h.1M324.3 534.4h.1M326.7 535.4h.1M320.8 537.7h.1M323.8 533h.1M324.7 534.4h.1M325.5 533.5h.1M323.5 532.6h.1M320.3 535.9h.1M323 538.6h.1M322.4 536h.1M320.6 538.6h.1M325 532.8h.1M325.6 534.8h.1M332 537.8h.1M322.2 537.1h.1M326.5 535.1h.1M323.8 535.2h.1M321.6 536.3h.1M323.2 535.6h.1M325.2 534.3h.1M332.8 536.2h.1M328.7 540.9h.1M326.3 534.3h.1M320.7 532.9h.1M328.5 533h.1M319.6 535.8h.1M326.1 538.9h.1M321.6 537.6h.1M318.6 538.1h.1M327.4 533.9h.1M330.5 536h.1M328.4 535.8h.1M330.2 537h.1M323.2 534h.1M323.6 537.2h.1M328.5 536.2h.1M325.7 534.6h.1M327.6 537.3h.1M329 538.8h.1M332.2 535h.1M334.9 538.6h.1M327.5 536.4h.1M328.3 534.7h.1M324.2 535.8h.1M325.2 530.2h.1M328.6 532h.1M327.6 535h.1M324.3 537.2h.1M323.7 533.8h.1M329 536.1h.1M325.6 534.2h.1M325.5 536.3h.1M329.4 537.2h.1M327.6 533.9h.1M330.4 540.7h.1M333.4 533.7h.1M330.5 535.4h.1M327.6 535.1h.1M325.2 532.7h.1M329.5 533.7h.1M326.2 534.9h.1M328.3 534.8h.1M327.5 534.8h.1M328.8 536.3h.1M332.9 536.7h.1M326.1 536.7h.1M331.1 534.6h.1M326.2 531.3h.1M333 535.9h.1M332.5 532.7h.1M320.2 536.3h.1M325.2 536h.1M325.4 537.3h.1M326.9 535.4h.1M329.7 534.8h.1M326.8 538.1h.1M327.7 536.1h.1M329.7 535.9h.1M329.8 539.4h.1M333.2 533h.1M322.2 534h.1M321.7 530.5h.1M326.1 533.8h.1M330.2 536.5h.1M336.8 534.3h.1M327.5 536.1h.1M333.2 535.2h.1M326.6 530.5h.1M332.4 535.2h.1M334.8 539.2h.1M335.9 536.5h.1M332.5 533.1h.1M331 534.9h.1M333 534.6h.1M328.8 534h.1M335.6 535.9h.1M326.2 534.9h.1M325.2 538h.1M333.6 535.9h.1M330.5 532.8h.1M334.8 535.5h.1M336.4 534.5h.1M331.1 537.3h.1M332.2 535.4h.1M333.1 536.4h.1M329.6 533.6h.1M333.8 535.7h.1M331.1 535.5h.1M330.7 534.9h.1M339.6 539.1h.1M333.3 536.2h.1M333.3 534h.1M333 535.4h.1M329.6 534.3h.1M328.8 536.5h.1M331.1 534.1h.1M332.4 535.9h.1M330.7 538.4h.1M330.2 533h.1M331.5 533.7h.1M333.8 536.7h.1M330 536.6h.1M329.7 534.7h.1M325.1 531.6h.1M329.6 539h.1M327 535.5h.1M328.8 536.6h.1M328.3 535.4h.1M332.3 534.6h.1M330.5 535.2h.1M332.7 536.8h.1M333.5 536.4h.1M327.7 534.8h.1M332.7 535.7h.1M333.8 533.2h.1M328.1 534h.1M332 534.4h.1M328 536.2h.1M329.6 533.5h.1M333.8 535.4h.1M334.1 536.7h.1M330.5 535h.1M332 536.9h.1M332.3 537.6h.1M330.6 535.6h.1M336.7 533h.1M328.3 536.9h.1M334.9 537.4h.1M335.2 537.5h.1M330.8 535.6h.1M334.3 533.3h.1M328.3 534.5h.1M335.6 537h.1M328.3 534.5h.1M330.6 535.7h.1M333.1 535.6h.1M329.4 537.6h.1M335.8 533.6h.1M331.9 537.6h.1M333.6 536.5h.1M331 538.2h.1M328.9 537.3h.1M338.1 534.2h.1M336.8 537.1h.1M330.4 535.9h.1M337 534.8h.1M331 530.3h.1M327.1 534.9h.1M332 536.7h.1M336.7 539.3h.1M336.2 541.1h.1M336.4 538.2h.1M331.4 536.5h.1M337.1 537.5h.1M332.5 535.6h.1M329.9 536.3h.1M330.6 537.5h.1M334.8 537h.1M335.9 536.5h.1M336.6 535.8h.1M328.8 538.1h.1M331.6 537.4h.1M335.7 536.4h.1M334.5 536.2h.1M334.6 535.7h.1M333.6 536.2h.1M335.9 534.9h.1M334.7 533.2h.1M331.3 532.5h.1M333.1 536.4h.1M336.2 533.2h.1M336.6 533.8h.1M332.6 534.7h.1M339 536h.1M340.7 537.5h.1M333.1 536.4h.1M338.3 534.1h.1M332.4 535.6h.1M332.9 535.2h.1M338.3 533.9h.1M334.9 533.4h.1M333.1 534.5h.1M335.8 537.4h.1M337.7 533.2h.1M334.8 533.4h.1M339.1 533.3h.1M339.5 534.6h.1M339.4 534.4h.1M340 533.4h.1M337.9 532.4h.1M339.2 534.7h.1M341.7 533.1h.1M343.3 533.1h.1M339.7 533.1h.1M342.3 534.1h.1M341.3 532.6h.1M344.1 534.5h.1M346 535.1h.1M345.3 536.1h.1M344.8 534.3h.1M349.3 534.9h.1M346.8 534.5h.1M345 535.2h.1M348.6 535.1h.1M351.2 535.4h.1M349.4 535h.1M351.2 536.5h.1M347.7 534.3h.1M349.6 535.2h.1M352.8 535h.1M356.5 535.2h.1M354.6 534.6h.1M354.2 534.1h.1M357.9 534h.1M354.6 537.4h.1M358.4 535.3h.1M357.4 534.1h.1M358.4 536.3h.1M358.6 535h.1M363 535.1h.1M361.5 537.7h.1M361.1 535.6h.1M361 533.4h.1M364.8 536.2h.1M364.5 536.3h.1M364 534.4h.1M363.9 535.1h.1M365.7 537h.1M366 534.9h.1M367.8 536.4h.1M372.8 536.4h.1M367.6 535.3h.1M371.6 535.5h.1M373.3 538.2h.1M369.9 534.9h.1M372.1 536.3h.1M376.5 535h.1M376 536.3h.1M372 536.3h.1M378.3 538.6h.1M376.4 537.5h.1M375.2 537.8h.1M380.1 538.6h.1M377.7 535.8h.1M377 538.8h.1M381.7 535.4h.1M381.2 538.1h.1M383.6 537.6h.1M382.7 537.3h.1M381.5 535.9h.1M386 538.3h.1M387.1 535.8h.1M385.8 537.3h.1M390.2 537h.1M387.4 536.7h.1M388.5 537.3h.1M389.5 539.9h.1M391.4 536h.1M394.3 537.3h.1M391.1 537.6h.1M395.5 538.5h.1M395.8 538h.1M395.1 537.3h.1M395.8 538h.1M396.8 536.9h.1M395.5 539.9h.1M402.5 540.6h.1M402.5 539.8h.1M403.5 539.6h.1M402.8 539h.1M404 539.7h.1M403.2 538.9h.1M406 538.8h.1M410 540.1h.1M402.6 540.5h.1M406.9 539.6h.1M408.4 540.7h.1M408.3 540.1h.1M409.8 542.4h.1M409.9 539.1h.1M407.7 540h.1" fill="none" stroke="#146e73" stroke-width="0.6" stroke-linecap="round" opacity="0.7"/>
<polyline points="157,594.5 157.9,594.6 159.1,594.7 160.6,594.9 162.3,595.1 164.1,595.3 166,595.5 168,595.7 170.3,596 172.6,596.2 175.1,596.5 177.6,596.7 180,597 182.4,597.3 184.9,597.5 187.4,597.8 190,598 192.5,598.3 195,598.6 197.5,598.9 200,599.2 202.5,599.5 205,599.8 207.5,600.1 210,600.4 212.5,600.6 215,600.9 217.5,601.1 220,601.3 222.5,601.5 225,601.6 227.5,601.7 230.1,601.8 232.6,601.9 235.1,602 237.6,602 240,602 242.3,602 244.5,602 246.7,601.9 248.8,601.8 250.9,601.7 253,601.6 255.1,601.4 257.1,601.2 259.1,601 261.1,600.8 263,600.5 265,600.2 266.9,599.9 268.9,599.7 270.8,599.5 272.7,599.1 274.5,598.7 276.4,598 278.3,597.1 280.3,596.1 282.2,594.9 284.1,593.7 285.8,592.3 287.3,591 288.6,589.6 289.7,588.1 290.6,586.5 291.4,584.9 292.1,583.4 292.7,581.8 293.2,580.3 293.5,578.8 293.8,577.2 293.9,575.7 293.8,574.2 293.6,572.7 293.2,571.2 292.5,569.7 291.8,568.2 290.9,566.6 289.9,565.1 289,563.6 288,562 287,560.4 286,558.8 284.9,557.2 283.8,555.8 282.7,554.5 281.6,553.4 280.5,552.4 279.4,551.6 278.4,550.8 277.3,550.2 276.4,549.6 275.5,549.2 274.7,548.9 273.9,548.7 273.2,548.6 272.6,548.4 272,548.3 271.5,548.1 271,548 270.6,547.9 270.2,547.8 270,547.6 269.8,547.5 269.7,547.3 269.7,547.2 269.9,547 270,546.8 270.3,546.7 270.6,546.5 271,546.3 271.5,546.2 272,546.1 272.7,545.9 273.3,545.8 274,545.6 274.7,545.4 275.5,545.2 276.3,545 277.2,544.8 278.1,544.6 279,544.3 280,544 281,543.7 282,543.4 283.1,543.1 284.3,542.7 285.5,542.2 286.9,541.6 288.3,540.8 289.8,540 291.4,539.2 293,538.4 294.5,537.8 296,537.3 297.5,536.9 299,536.5 300.6,536.2 302.1,536 303.6,535.7 305.1,535.5 306.6,535.3 308.2,535.1 309.7,535 311.2,534.8 312.7,534.7 314.2,534.5 315.7,534.4 317.2,534.3 318.8,534.1 320.3,534 321.8,533.9 323.3,533.8 324.9,533.7 326.4,533.7 327.9,533.6 329.5,533.6 331,533.6 332.5,533.6 333.9,533.7 335.4,533.7 336.9,533.8 338.4,533.9 340,534 341.7,534.1 343.4,534.2 345.2,534.4 347,534.5 349,534.7 351,534.8 353.1,535 355.4,535.1 357.8,535.3 360.1,535.4 362.6,535.6 365,535.8 367.4,536 369.9,536.2 372.4,536.4 375,536.6 377.5,536.8 380,537 382.5,537.2 385,537.4 387.5,537.7 390,537.9 392.5,538.2 395,538.4 397.7,538.7 400.6,539 403.4,539.3 406.1,539.6 408.4,539.8 410,540" fill="none" stroke="#0d4e52" stroke-width="2.8" stroke-linejoin="round" stroke-linecap="round" opacity="0.5"/>
<polyline points="157,594.5 157.9,594.6 159.1,594.7 160.6,594.9 162.3,595.1 164.1,595.3 166,595.5 168,595.7 170.3,596 172.6,596.2 175.1,596.5 177.6,596.7 180,597 182.4,597.3 184.9,597.5 187.4,597.8 190,598 192.5,598.3 195,598.6 197.5,598.9 200,599.2 202.5,599.5 205,599.8 207.5,600.1 210,600.4 212.5,600.6 215,600.9 217.5,601.1 220,601.3 222.5,601.5 225,601.6 227.5,601.7 230.1,601.8 232.6,601.9 235.1,602 237.6,602 240,602 242.3,602 244.5,602 246.7,601.9 248.8,601.8 250.9,601.7 253,601.6 255.1,601.4 257.1,601.2 259.1,601 261.1,600.8 263,600.5 265,600.2 266.9,599.9 268.9,599.7 270.8,599.5 272.7,599.1 274.5,598.7 276.4,598 278.3,597.1 280.3,596.1 282.2,594.9 284.1,593.7 285.8,592.3 287.3,591 288.6,589.6 289.7,588.1 290.6,586.5 291.4,584.9 292.1,583.4 292.7,581.8 293.2,580.3 293.5,578.8 293.8,577.2 293.9,575.7 293.8,574.2 293.6,572.7 293.2,571.2 292.5,569.7 291.8,568.2 290.9,566.6 289.9,565.1 289,563.6 288,562 287,560.4 286,558.8 284.9,557.2 283.8,555.8 282.7,554.5 281.6,553.4 280.5,552.4 279.4,551.6 278.4,550.8 277.3,550.2 276.4,549.6 275.5,549.2 274.7,548.9 273.9,548.7 273.2,548.6 272.6,548.4 272,548.3 271.5,548.1 271,548 270.6,547.9 270.2,547.8 270,547.6 269.8,547.5 269.7,547.3 269.7,547.2 269.9,547 270,546.8 270.3,546.7 270.6,546.5 271,546.3 271.5,546.2 272,546.1 272.7,545.9 273.3,545.8 274,545.6 274.7,545.4 275.5,545.2 276.3,545 277.2,544.8 278.1,544.6 279,544.3 280,544 281,543.7 282,543.4 283.1,543.1 284.3,542.7 285.5,542.2 286.9,541.6 288.3,540.8 289.8,540 291.4,539.2 293,538.4 294.5,537.8 296,537.3 297.5,536.9 299,536.5 300.6,536.2 302.1,536 303.6,535.7 305.1,535.5 306.6,535.3 308.2,535.1 309.7,535 311.2,534.8 312.7,534.7 314.2,534.5 315.7,534.4 317.2,534.3 318.8,534.1 320.3,534 321.8,533.9 323.3,533.8 324.9,533.7 326.4,533.7 327.9,533.6 329.5,533.6 331,533.6 332.5,533.6 333.9,533.7 335.4,533.7 336.9,533.8 338.4,533.9 340,534 341.7,534.1 343.4,534.2 345.2,534.4 347,534.5 349,534.7 351,534.8 353.1,535 355.4,535.1 357.8,535.3 360.1,535.4 362.6,535.6 365,535.8 367.4,536 369.9,536.2 372.4,536.4 375,536.6 377.5,536.8 380,537 382.5,537.2 385,537.4 387.5,537.7 390,537.9 392.5,538.2 395,538.4 397.7,538.7 400.6,539 403.4,539.3 406.1,539.6 408.4,539.8 410,540" fill="none" stroke="#14747a" stroke-width="0.9" stroke-linejoin="round" stroke-linecap="round" opacity="0.45" stroke-dasharray="3 1 1.5 0.8 4 1.2"/>
<path d="M157 592.6L157.9 593.6L158.8 593.4L159.7 593.6L160.6 593.7L161.5 594.1L162.4 594.3L163.3 593.5L164.2 594.6L165.1 593.6L165.9 594.7L166.8 595.2L167.7 595.1L168.6 595L169.5 594.5L170.4 595.2L171.3 595.2L172.2 595.6L173.1 595.8L174 594.4L174.9 595.4L175.8 594.7L176.7 595.3L177.6 596.3L178.5 595.3L179.4 595L180.3 595.1L181.2 596.3L182.1 596.5L182.9 595.4L183.8 596L184.7 596.2L185.6 596.9L186.5 596.6L187.4 596.3L188.3 597L189.2 596.3L190.1 596.1L191 597.7L191.9 597.8L192.8 597.1L193.7 596.5L194.6 597.3L195.5 597.9L196.4 597.6L197.3 597.4L198.2 597.5L199 597.6L199.9 597.9L200.8 597.5L201.7 597.5L202.6 598.6L203.5 598.9L204.4 599L205.3 599.2L206.2 598.2L207.1 598.5L208 599.6L208.9 598.3L209.8 598.4L210.7 598.7L211.6 600.1L212.5 599.2L213.4 598.9L214.3 599.7L215.1 600.4L216 599.5L216.9 600L217.8 599.9L218.7 599.2L219.6 599.9L220.5 599.8L221.4 600.9L222.3 600.7L223.2 600.7L224.1 601.1L225 600.6L225.9 600.7L226.8 599.7L227.7 600.8L228.6 601.3L229.5 600L230.4 601.1L231.3 601.2L232.2 601L233.1 601.4L234 601.1L234.9 600.5L235.8 601.2L236.7 600.3L237.6 601.4L238.5 600.3L239.4 601.4L240.3 600.7L241.2 601L242.1 601.1L243 600.6L243.9 601.4L244.8 600L245.7 600.2L246.6 601.3L247.5 600.1L248.4 600.2L249.3 600.5L250.2 600.1L251.1 600.2L252 600.5L252.9 600.8L253.8 600.1L254.7 600.8L255.6 599.7L256.5 599.8L257.4 600L258.3 600L259.2 599.5L260.1 599.7L261 598.9L261.9 599.1L261.9 601.3L261 601.4L260.1 601.5L259.2 601.6L258.3 601.7L257.4 601.8L256.5 601.9L255.6 602L254.7 602.1L253.8 602.1L252.9 602.2L252 602.3L251.1 602.3L250.2 602.4L249.3 602.4L248.4 602.5L247.5 602.5L246.6 602.5L245.7 602.5L244.8 602.6L243.9 602.6L243 602.6L242.1 602.6L241.2 602.6L240.3 602.6L239.4 602.6L238.5 602.6L237.6 602.6L236.7 602.6L235.8 602.6L234.9 602.6L234 602.5L233.1 602.5L232.2 602.5L231.3 602.5L230.4 602.4L229.5 602.4L228.6 602.4L227.7 602.3L226.8 602.3L225.9 602.2L225 602.2L224.1 602.1L223.2 602.1L222.3 602L221.4 602L220.5 601.9L219.6 601.9L218.7 601.8L217.8 601.7L216.9 601.6L216 601.6L215.1 601.5L214.3 601.4L213.4 601.3L212.5 601.2L211.6 601.2L210.7 601.1L209.8 601L208.9 600.9L208 600.8L207.1 600.7L206.2 600.6L205.3 600.5L204.4 600.4L203.5 600.3L202.6 600.1L201.7 600L200.8 599.9L199.9 599.8L199 599.7L198.2 599.6L197.3 599.5L196.4 599.4L195.5 599.3L194.6 599.2L193.7 599.1L192.8 599L191.9 598.9L191 598.8L190.1 598.7L189.2 598.6L188.3 598.5L187.4 598.4L186.5 598.3L185.6 598.2L184.7 598.1L183.8 598L182.9 597.9L182.1 597.8L181.2 597.7L180.3 597.6L179.4 597.5L178.5 597.4L177.6 597.3L176.7 597.2L175.8 597.2L174.9 597.1L174 597L173.1 596.9L172.2 596.8L171.3 596.7L170.4 596.6L169.5 596.5L168.6 596.4L167.7 596.3L166.8 596.2L165.9 596.1L165.1 596L164.2 595.9L163.3 595.8L162.4 595.7L161.5 595.6L160.6 595.5L159.7 595.4L158.8 595.3L157.9 595.2L157 595.1Z" fill="#1a8f94" opacity="0.8"/>
<path d="M300.1 534L301 533.2L301.9 535.1L302.8 533.3L303.7 532.8L304.6 532.9L305.5 532.1L306.4 532.8L307.2 534.2L308.1 534.2L309 532.6L309.9 531.7L310.8 533.1L311.7 532.8L312.6 533.8L313.5 533.8L314.4 532.3L315.3 533L316.2 532.9L317.1 532.3L318 533.2L318.9 530.9L319.8 530.9L320.7 532.9L321.6 531.7L322.5 531.1L323.4 531.8L324.3 530.9L325.2 530.7L326.1 532.3L327 530.9L327.9 532.2L328.8 531.1L329.7 531.6L330.6 530.6L331.5 532.6L332.4 530.5L333.3 532.1L334.2 532.8L335.1 531.3L336 532.4L336.9 531.5L337.8 532.2L338.7 531.4L339.6 531.4L340.5 531.6L341.4 532.9L342.3 532.1L343.2 532.1L344.1 530.9L345 533.3L345.9 533L346.8 532.4L347.7 531.9L348.5 533.1L349.4 532.7L350.3 532L351.2 531.4L352.1 532.7L353 533.3L353.9 534L354.8 533L355.7 533.6L356.6 534.2L357.5 533.1L358.4 531.9L359.3 532L360.2 533.6L361.1 532.3L362 532.4L362.9 534.7L363.8 534.7L364.7 533L365.6 534.4L366.5 534.2L367.4 533.6L368.3 533.6L369.2 534.6L370.1 535.1L371 534.5L371.9 534.2L372.8 533.3L373.7 534.7L374.6 535.3L375.5 533.4L376.4 534.1L377.3 534.9L378.2 534.2L379.1 535L380 535.2L380.9 536L381.8 535.5L382.6 535.6L383.5 535.6L384.4 535.6L385.3 534.2L386.2 536.2L387.1 536.8L388 535L388.9 536.4L389.8 536.9L390.7 536.2L391.6 535L392.5 537.2L393.4 535L394.3 535.6L395.2 535.4L396.1 537L397 537.7L397.9 536.2L398.8 536.3L399.7 537.7L400.6 535.7L401.5 537.1L402.4 537.6L403.2 536.5L404.1 536.5L405 537.5L405.9 538.7L406.8 536.9L407.7 537.9L408.6 536.8L409.5 537.7L409.5 540.5L408.6 540.5L407.7 540.4L406.8 540.3L405.9 540.2L405 540.1L404.1 540L403.2 539.9L402.4 539.8L401.5 539.7L400.6 539.6L399.7 539.5L398.8 539.4L397.9 539.3L397 539.2L396.1 539.1L395.2 539L394.3 538.9L393.4 538.8L392.5 538.8L391.6 538.7L390.7 538.6L389.8 538.5L388.9 538.4L388 538.3L387.1 538.2L386.2 538.2L385.3 538.1L384.4 538L383.5 537.9L382.6 537.8L381.8 537.8L380.9 537.7L380 537.6L379.1 537.5L378.2 537.4L377.3 537.4L376.4 537.3L375.5 537.2L374.6 537.1L373.7 537.1L372.8 537L371.9 536.9L371 536.9L370.1 536.8L369.2 536.7L368.3 536.7L367.4 536.6L366.5 536.5L365.6 536.4L364.7 536.4L363.8 536.3L362.9 536.2L362 536.2L361.1 536.1L360.2 536L359.3 536L358.4 535.9L357.5 535.9L356.6 535.8L355.7 535.7L354.8 535.7L353.9 535.6L353 535.5L352.1 535.5L351.2 535.4L350.3 535.4L349.4 535.3L348.5 535.2L347.7 535.2L346.8 535.1L345.9 535L345 534.9L344.1 534.9L343.2 534.8L342.3 534.7L341.4 534.7L340.5 534.6L339.6 534.6L338.7 534.5L337.8 534.5L336.9 534.4L336 534.4L335.1 534.3L334.2 534.3L333.3 534.2L332.4 534.2L331.5 534.2L330.6 534.2L329.7 534.2L328.8 534.2L327.9 534.2L327 534.3L326.1 534.3L325.2 534.3L324.3 534.4L323.4 534.4L322.5 534.5L321.6 534.5L320.7 534.6L319.8 534.6L318.9 534.7L318 534.8L317.1 534.9L316.2 535L315.3 535L314.4 535.1L313.5 535.2L312.6 535.3L311.7 535.4L310.8 535.5L309.9 535.6L309 535.6L308.1 535.7L307.2 535.8L306.4 535.9L305.5 536L304.6 536.2L303.7 536.3L302.8 536.4L301.9 536.6L301 536.8L300.1 536.9Z" fill="#1a8f94" opacity="0.9"/>
<path d="M156.5 594.8L157 593.5L157.5 594.8ZM158.3 595L159.1 593.2L160 595ZM159.7 595.2L160.6 593.9L161.6 595.2ZM163.4 595.6L164.1 592.7L164.8 595.6ZM165.3 595.8L166 593.5L166.7 595.8ZM167.3 596L168 593.1L168.8 596ZM169.4 596.3L170.3 594.5L171.1 596.3ZM171.7 596.5L172.6 593L173.6 596.5ZM174.3 596.8L175.1 595L175.8 596.8ZM176.8 597L177.6 594.1L178.3 597ZM181.8 597.6L182.4 595.8L183.1 597.6ZM184.2 597.8L184.9 596L185.6 597.8ZM189.1 598.3L190 597L190.8 598.3ZM191.6 598.6L192.5 595.7L193.4 598.6ZM194.3 598.9L195 596.6L195.7 598.9ZM196.7 599.2L197.5 596.9L198.3 599.2ZM199.2 599.5L200 596L200.8 599.5ZM206.8 600.4L207.5 598.6L208.2 600.4ZM211.6 600.9L212.5 598.6L213.4 600.9ZM216.8 601.4L217.5 600.1L218.2 601.4ZM226.8 602L227.5 600.7L228.2 602ZM239.4 602.3L240 601L240.6 602.3ZM241.3 602.3L242.3 601L243.3 602.3ZM250 602L250.9 598.5L251.8 602ZM252.4 601.9L253 600.1L253.6 601.9ZM258.3 601.3L259.1 599.5L259.9 601.3ZM262.5 600.8L263 599.5L263.6 600.8ZM264.4 600.5L265 597L265.6 600.5ZM266.4 600.2L266.9 596.7L267.4 600.2ZM271.8 599.4L272.7 597.1L273.5 599.4ZM275.6 598.3L276.4 596.5L277.2 598.3ZM277.5 597.4L278.3 594.5L279.2 597.4ZM279.7 596.4L280.3 595.1L280.9 596.4ZM285 592.6L285.8 590.8L286.6 592.6ZM287.7 589.9L288.6 588.6L289.4 589.9ZM290 586.8L290.6 583.9L291.2 586.8ZM292.5 580.6L293.2 578.8L293.8 580.6ZM293.1 577.5L293.8 575.7L294.4 577.5ZM293.1 574.5L293.8 571L294.6 574.5ZM292.9 573L293.6 571.2L294.3 573ZM292 570L292.5 566.5L293.1 570ZM291.2 568.5L291.8 566.7L292.3 568.5ZM289.3 565.4L289.9 564.1L290.5 565.4ZM288.1 563.9L289 561.6L289.9 563.9ZM285.1 559.1L286 557.3L286.8 559.1ZM282.9 556.1L283.8 553.8L284.6 556.1ZM281.7 554.8L282.7 552.5L283.7 554.8ZM281.1 553.7L281.6 552.4L282.1 553.7ZM279.8 552.7L280.5 550.4L281.2 552.7ZM275.5 549.9L276.4 547.6L277.3 549.9ZM274.7 549.5L275.5 548.2L276.4 549.5ZM273.8 549.2L274.7 545.7L275.7 549.2ZM273.1 549L273.9 546.7L274.8 549ZM272.6 548.9L273.2 546L273.9 548.9ZM271.5 548.6L272 545.7L272.5 548.6ZM270.8 548.4L271.5 547.1L272.1 548.4ZM269.6 548.1L270.2 545.8L270.9 548.1ZM268.8 547.8L269.8 545.5L270.8 547.8ZM268.8 547.6L269.7 544.1L270.7 547.6ZM269.5 547.1L270 545.3L270.6 547.1ZM269.7 546.8L270.6 543.9L271.5 546.8ZM271.4 546.4L272 543.5L272.6 546.4ZM275.6 545.3L276.3 543L277 545.3ZM279.3 544.3L280 542.5L280.6 544.3ZM280.2 544L281 542.7L281.7 544ZM282.2 543.4L283.1 540.5L284 543.4ZM284.9 542.5L285.5 541.2L286.1 542.5ZM286.3 541.9L286.9 539L287.4 541.9ZM287.5 541.1L288.3 538.2L289.1 541.1ZM295.4 537.6L296 535.3L296.7 537.6ZM298.4 536.8L299 534.5L299.6 536.8ZM299.9 536.5L300.6 534.7L301.2 536.5ZM301.5 536.3L302.1 532.8L302.7 536.3ZM302.6 536L303.6 533.7L304.6 536ZM305.8 535.6L306.6 534.3L307.5 535.6ZM308.7 535.3L309.7 532.4L310.6 535.3ZM310.2 535.1L311.2 532.2L312.1 535.1ZM312.1 535L312.7 532.7L313.3 535ZM313.2 534.8L314.2 531.3L315.2 534.8ZM318 534.4L318.8 532.6L319.5 534.4ZM319.7 534.3L320.3 533L320.8 534.3ZM324.2 534L324.9 531.7L325.5 534ZM325.9 534L326.4 531.7L326.9 534ZM333.3 534L333.9 531.7L334.5 534ZM334.9 534L335.4 532.2L335.9 534ZM336.3 534.1L336.9 531.2L337.4 534.1ZM337.6 534.2L338.4 531.3L339.2 534.2ZM339.5 534.3L340 530.8L340.5 534.3ZM341 534.4L341.7 532.1L342.4 534.4ZM342.7 534.5L343.4 532.2L344.1 534.5ZM344.2 534.7L345.2 531.2L346.1 534.7ZM346.1 534.8L347 533.5L348 534.8ZM350.3 535.1L351 533.3L351.7 535.1ZM352.4 535.3L353.1 534L353.9 535.3ZM354.5 535.4L355.4 534.1L356.3 535.4ZM357 535.6L357.8 533.3L358.5 535.6ZM359.6 535.7L360.1 534.4L360.7 535.7ZM362 535.9L362.6 533L363.1 535.9ZM366.9 536.3L367.4 532.8L368 536.3ZM369.2 536.5L369.9 534.7L370.7 536.5ZM374.1 536.9L375 534L375.8 536.9ZM381.5 537.5L382.5 536.2L383.5 537.5ZM384.2 537.7L385 536.4L385.8 537.7ZM389.2 538.2L390 534.7L390.8 538.2ZM405.5 539.9L406.1 537L406.7 539.9ZM407.4 540.1L408.4 537.2L409.3 540.1ZM409.4 540.3L410 538L410.6 540.3Z" fill="#1fa3a8" opacity="0.9"/>
<polygon class="pk" points="326.4,534.1 327.2,533.5 327.9,531.6 328.4,529.5 328.9,529.5 329.5,531.6 330.2,533.5 331,534.1"/>
<polygon class="pk" points="320.2,534.2 321,533.7 321.4,532.1 321.8,530.3 322.2,530.3 322.6,532.1 323,533.7 323.8,534.2"/>
<polygon class="pk" points="334,534.5 334.8,533.8 335.5,530.8 336.1,527.3 336.6,527.3 337.3,530.8 338,533.8 338.8,534.5"/>
<polygon class="pk" points="340.8,534.8 341.6,534.2 342.2,532.2 342.8,530 343.2,530 343.8,532.2 344.4,534.2 345.2,534.8"/>
<polygon class="pk" points="346.1,535.2 346.9,534.5 347.6,531.6 348.1,528.4 348.6,528.4 349.2,531.6 349.9,534.5 350.7,535.2"/>
<polygon class="pk" points="348.4,535.5 349.2,533.7 350.1,522.5 350.9,509.8 351.4,509.8 352.3,522.5 353.2,533.7 354,535.5"/>
<polygon class="pk" points="354.9,535.9 355.7,534.7 356.5,528.2 357.2,520.7 357.8,520.7 358.5,528.2 359.3,534.7 360.1,535.9"/>
<polygon class="pk" points="359.8,536.2 360.6,535.5 361.2,532.7 361.8,529.5 362.2,529.5 362.8,532.7 363.4,535.5 364.2,536.2"/>
<polygon class="pk" points="365.5,536.6 366.3,535.6 367.1,530.6 367.8,525 368.2,525 368.9,530.6 369.7,535.6 370.5,536.6"/>
<polygon class="pk pg2" points="299.8,536.8 300.6,534.1 301.2,516.2 301.6,496 302.1,496 302.6,516.2 303.2,534.1 304,536.8"/>
<polygon class="pk" points="370,537 370.8,536 371.5,530.9 372.1,525 372.6,525 373.3,530.9 374,536 374.8,537"/>
<polygon class="pk" points="375.8,537.5 376.6,536.2 377.6,529 378.6,520.7 379.1,520.7 380.2,529 381.2,536.2 382,537.5"/>
<polygon class="pk pg" points="295.9,538.1 296.7,534.8 297.6,478.5 298.4,419.3 298.9,419.3 299.8,478.5 300.7,534.8 301.5,538.1"/>
<polygon class="pk" points="383.2,538.1 384,537.4 384.7,534.7 385.2,531.6 385.8,531.6 386.3,534.7 387,537.4 387.8,538.1"/>
<polygon class="pk" points="292.9,538.3 293.7,537.5 294.3,534.2 294.8,530.5 295.2,530.5 295.7,534.2 296.3,537.5 297.1,538.3"/>
<polygon class="pk" points="388.4,538.7 389.2,536.9 390,525.9 390.8,513.4 391.2,513.4 392,525.9 392.8,536.9 393.6,538.7"/>
<polygon class="pk" points="392.8,539.1 393.6,538.2 394.4,534.1 395.1,529.5 395.6,529.5 396.2,534.1 397,538.2 397.8,539.1"/>
<polygon class="pk" points="397.2,539.5 398,538.6 398.7,533.8 399.4,528.4 399.9,528.4 400.5,533.8 401.2,538.6 402,539.5"/>
<polygon class="pk" points="403.9,540.2 404.7,539.5 405.4,536.3 405.9,532.7 406.4,532.7 407,536.3 407.7,539.5 408.5,540.2"/>
<polygon class="pk pg2" points="276.4,547.8 277.2,544.5 277.7,519.2 278.1,491 278.6,491 278.9,519.2 279.4,544.5 280.2,547.8"/>
<polygon class="pk" points="279.2,552.8 280,551.5 280.4,544.2 280.8,536 281.2,536 281.6,544.2 282,551.5 282.8,552.8"/>
<polygon class="pk" points="280.8,555.2 281.6,554 282.2,547.5 282.8,540 283.2,540 283.8,547.5 284.4,554 285.2,555.2"/>
<polygon class="pk" points="283.9,559.3 284.7,558.2 285.3,552.5 285.8,546 286.2,546 286.7,552.5 287.3,558.2 288.1,559.3"/>
<polygon class="pk" points="289.2,584.3 290,582.9 290.7,575 291.2,566 291.8,566 292.3,575 293,582.9 293.8,584.3"/>
<polygon class="pk pg" points="287.4,589.3 288.2,586 288.8,530.5 289.4,472 289.9,472 290.4,530.5 291,586 291.8,589.3"/>
<polygon class="pk" points="282.6,594.3 283.4,593.4 284.1,589 284.8,584 285.2,584 285.9,589 286.6,593.4 287.4,594.3"/>
<polygon class="pk" points="160.7,595.7 161.5,595.2 162.2,594 162.8,592.6 163.2,592.6 163.8,594 164.5,595.2 165.3,595.7"/>
<polygon class="pk" points="164,596.1 164.8,595.5 165.6,593.7 166.2,591.6 166.8,591.6 167.4,593.7 168.2,595.5 169,596.1"/>
<polygon class="pk" points="167.7,596.4 168.5,595.9 169.2,594 169.8,592 170.2,592 170.8,594 171.5,595.9 172.3,596.4"/>
<polygon class="pk" points="170.7,596.6 171.5,595 172.5,585.4 173.3,574.5 173.8,574.5 174.7,585.4 175.7,595 176.5,596.6"/>
<polygon class="pk" points="174.6,597.2 175.4,596.6 176.1,594.8 176.8,592.6 177.2,592.6 177.9,594.8 178.6,596.6 179.4,597.2"/>
<polygon class="pk" points="178.2,597.6 179,597.1 179.7,595.5 180.2,593.8 180.8,593.8 181.3,595.5 182,597.1 182.8,597.6"/>
<polygon class="pk" points="182.4,598.1 183.2,597.6 183.8,596.5 184.2,595.2 184.8,595.2 185.2,596.5 185.8,597.6 186.6,598.1"/>
<polygon class="pk" points="270.1,599.1 270.9,597.8 271.7,590.3 272.4,581.8 272.9,581.8 273.5,590.3 274.3,597.8 275.1,599.1"/>
<polygon class="pk pg2" points="265.3,599.7 266.1,597.1 267.5,580.6 268.9,561.8 269.4,561.8 270.7,580.6 272.1,597.1 272.9,599.7"/>
<polygon class="pk" points="205.6,600.9 206.4,600.4 207,598.9 207.6,597.2 208.1,597.2 208.6,598.9 209.2,600.4 210,600.9"/>
<polygon class="pk" points="208.2,601.3 209,600.6 209.8,597.8 210.6,594.6 211.1,594.6 211.8,597.8 212.6,600.6 213.4,601.3"/>
<polygon class="pk" points="211.3,601.7 212.1,600.7 213.2,595.8 214.3,590.2 214.8,590.2 216,595.8 217.1,600.7 217.9,601.7"/>
<polygon class="pk" points="215.4,601.9 216.2,601.1 217.2,597.5 218.1,593.5 218.6,593.5 219.4,597.5 220.4,601.1 221.2,601.9"/>
<polygon class="pk pg" points="251.1,602.1 251.9,598.8 252.5,524.5 253.1,447.2 253.6,447.2 254.1,524.5 254.7,598.8 255.5,602.1"/>
<polygon class="pk" points="219.5,602.2 220.3,601.6 221.1,599.3 221.8,596.8 222.2,596.8 222.9,599.3 223.7,601.6 224.5,602.2"/>
<polygon class="pk" points="222.8,602.3 223.6,601.8 224.2,600.2 224.8,598.5 225.2,598.5 225.8,600.2 226.4,601.8 227.2,602.3"/>
<g transform="translate(21.8 513.3) rotate(-90)">
<text class="t" x="0" y="0">ε</text>
<text class="p" transform="translate(3.7 -0.6) scale(1.35 1)">（</text>
<text class="t" x="25.3" y="0">%</text>
<text class="p" transform="translate(41.2 -0.6) scale(1.35 1)">）</text>
</g>
<text class="t" x="96.2" y="626.2">β</text>
<text class="p" transform="translate(101.9 625.3) scale(1.35 1)">（</text>
<text class="d" x="121.6" y="626.4">°</text>
<text class="p" transform="translate(130.8 625.3) scale(1.35 1)">）</text>
<text class="t" x="392.5" y="638">γ</text>
<text class="p" transform="translate(396.3 638.4) scale(1.35 1)">（</text>
<text class="d" x="417.3" y="639.3">°</text>
<text class="p" transform="translate(426.4 638.4) scale(1.35 1)">）</text>
<rect class="tb" x="298.9" y="377.2" width="47.1" height="41" rx="2"/>
<text class="k" x="302.3" y="390.1">X<tspan class="v" x="311.1">269</tspan></text>
<text class="k" x="302.3" y="402.2">Y<tspan class="v" x="311.1">136</tspan></text>
<text class="k" x="302.3" y="414.3">Z<tspan class="v" x="311.1">867.759</tspan></text>
<circle class="mk" cx="298.8" cy="419.2" r="1"/>
<rect class="tb" x="391.1" y="471.2" width="47.9" height="41" rx="2"/>
<text class="k" x="394.5" y="484.1">X<tspan class="v" x="403.3">350</tspan></text>
<text class="k" x="394.5" y="496.2">Y<tspan class="v" x="403.3">102</tspan></text>
<text class="k" x="394.5" y="508.3">Z<tspan class="v" x="403.3">185.546</tspan></text>
<circle class="mk" cx="391" cy="513.2" r="1"/>
<rect class="tb" x="346" y="548.6" width="58.9" height="41" rx="2"/>
<text class="k" x="349.4" y="561.5">X<tspan class="v" x="358.2">181</tspan></text>
<text class="k" x="349.4" y="573.6">Y<tspan class="v" x="358.2">34</tspan></text>
<text class="k" x="349.4" y="585.7">Z<tspan class="v" x="358.2">0.0570284</tspan></text>
<circle class="mk" cx="345.9" cy="590.6" r="1"/>
<rect class="tb" x="128.9" y="516.4" width="58.3" height="41" rx="2"/>
<text class="k" x="132.3" y="529.3">X<tspan class="v" x="141.1">63</tspan></text>
<text class="k" x="132.3" y="541.4">Y<tspan class="v" x="141.1">162</tspan></text>
<text class="k" x="132.3" y="553.5">Z<tspan class="v" x="141.1">0.0287796</tspan></text>
<circle class="mk" cx="128.8" cy="558.4" r="1"/>
<text class="cap" x="272" y="675.8">(<tspan class="cb">b</tspan>)</text>
</svg>
</body></html>
